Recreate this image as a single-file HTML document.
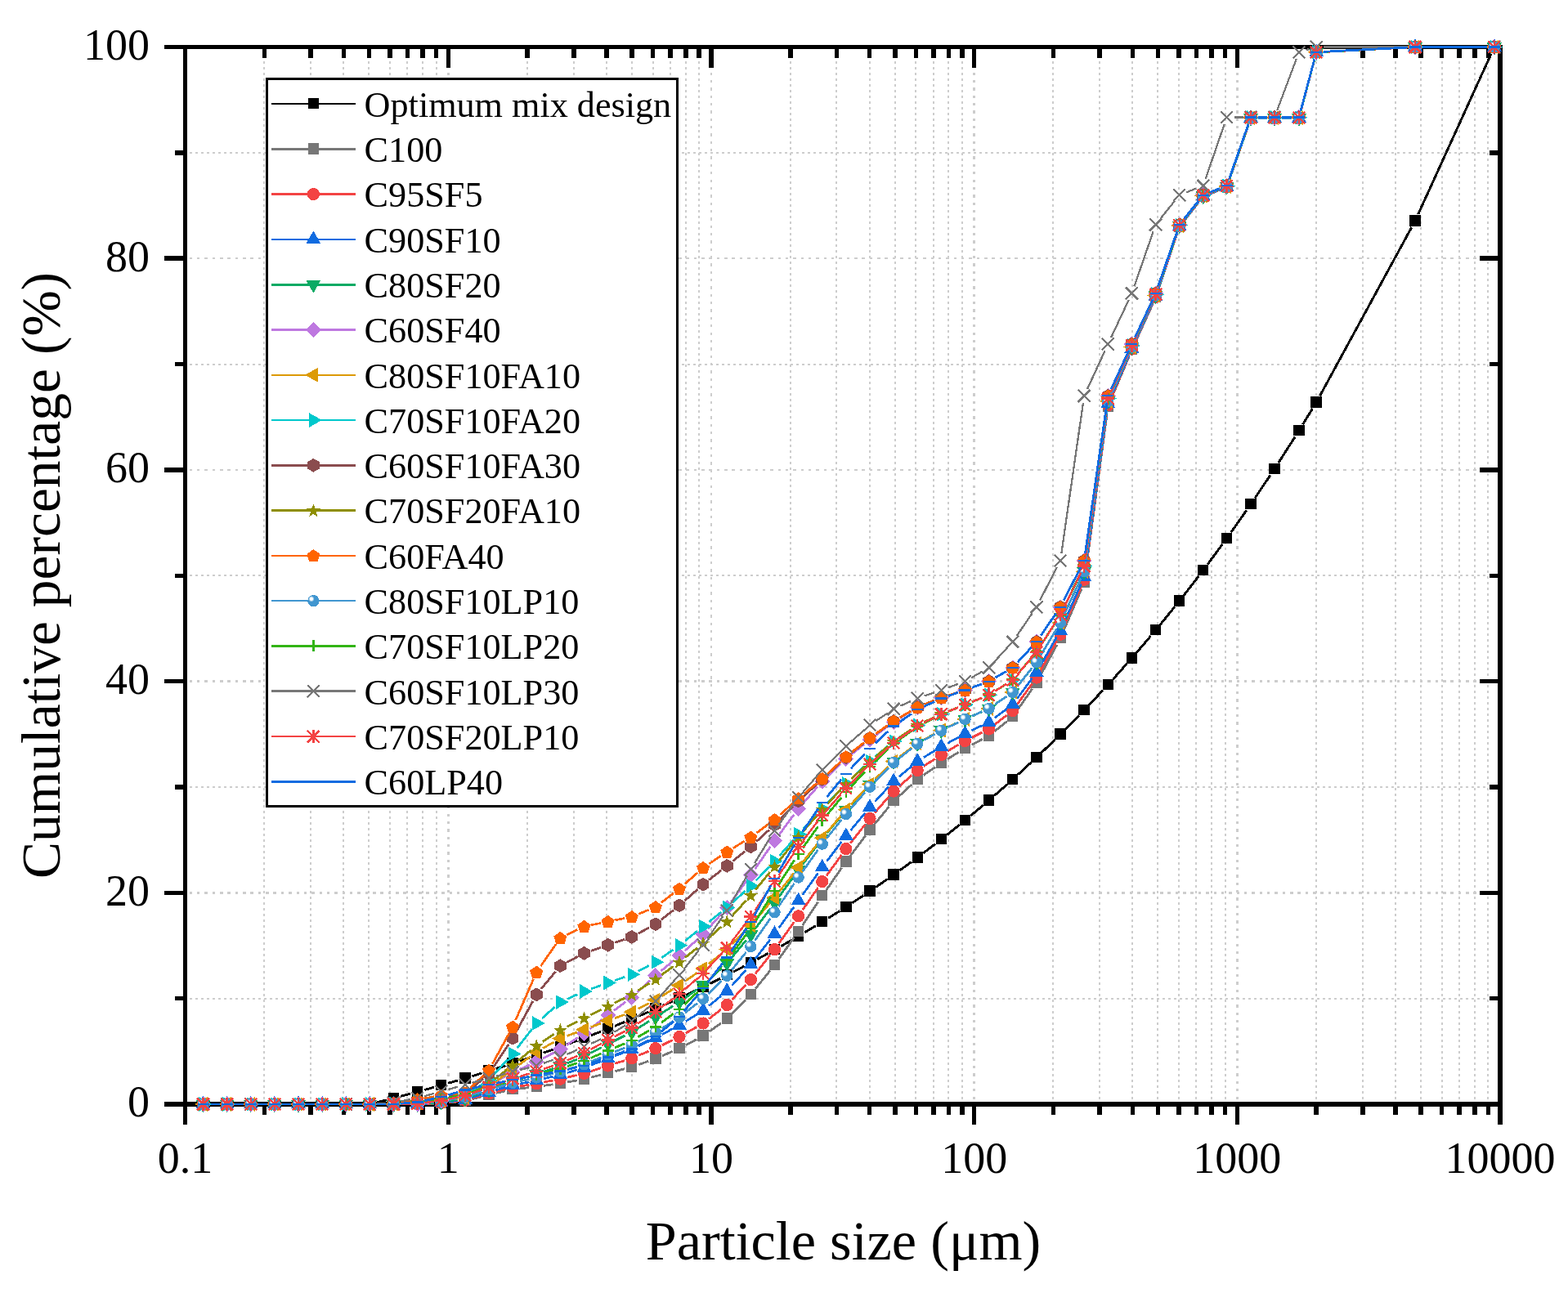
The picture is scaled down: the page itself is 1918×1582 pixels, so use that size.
<!DOCTYPE html>
<html lang="en"><head><meta charset="utf-8"><title>Cumulative particle size distribution</title>
<style>html,body{margin:0;padding:0;background:#fff}svg{display:block}text{font-family:"Liberation Serif",serif;fill:#000}</style></head><body>
<svg width="1918" height="1582" viewBox="0 0 1918 1582" shape-rendering="crispEdges">
<defs><radialGradient id="hl"><stop offset="0" stop-color="#fff" stop-opacity="1"/><stop offset="0.45" stop-color="#fff" stop-opacity="0.95"/><stop offset="1" stop-color="#fff" stop-opacity="0"/></radialGradient></defs>
<rect width="1918" height="1582" fill="#fff"/>
<g fill="none" stroke="#cdcdcd">
<path d="M323 60.55V1348M380 60.55V1348M420 60.55V1348M451 60.55V1348M477 60.55V1348M498 60.55V1348M517 60.55V1348M534 60.55V1348M645 60.55V1348M702 60.55V1348M742 60.55V1348M773 60.55V1348M799 60.55V1348M820 60.55V1348M839 60.55V1348M855 60.55V1348M967 60.55V1348M1023 60.55V1348M1064 60.55V1348M1095 60.55V1348M1120 60.55V1348M1142 60.55V1348M1160 60.55V1348M1177 60.55V1348M1288 60.55V1348M1345 60.55V1348M1385 60.55V1348M1416 60.55V1348M1442 60.55V1348M1463 60.55V1348M1482 60.55V1348M1499 60.55V1348M1610 60.55V1348M1667 60.55V1348M1707 60.55V1348M1738 60.55V1348M1764 60.55V1348M1785 60.55V1348M1804 60.55V1348M1820 60.55V1348" stroke-width="2" stroke-dasharray="3 4"/>
<path d="M548.5 60.55V1348M870 60.55V1348M1191.5 60.55V1348M1513.5 60.55V1348" stroke-width="2.6" stroke-dasharray="3.3 6.05"/>
<path d="M231.6 1222H1821M231.6 963H1821M231.6 704H1821M231.6 446H1821M231.6 187H1821" stroke-width="2" stroke-dasharray="3 4"/>
<path d="M231.6 1092.5H1808M231.6 833.5H1808M231.6 575H1808M231.6 316H1808" stroke-width="2.6" stroke-dasharray="3.5 5.85"/>
</g>
<path d="M201.4 57.55H1837.75M201.4 1351H1837.75M226.6 54.8V1376.2M1835 54.8V1376.2M213.6 1221.65H226.6M1822 1221.65H1835M201.4 1092.31H226.6M1809.8 1092.31H1835M213.6 962.97H226.6M1822 962.97H1835M201.4 833.62H226.6M1809.8 833.62H1835M213.6 704.27H226.6M1822 704.27H1835M201.4 574.93H226.6M1809.8 574.93H1835M213.6 445.59H226.6M1822 445.59H1835M201.4 316.24H226.6M1809.8 316.24H1835M213.6 186.89H226.6M1822 186.89H1835M323.44 1351V1364M323.44 57.55V70.55M380.08 1351V1364M380.08 57.55V70.55M420.27 1351V1364M420.27 57.55V70.55M451.44 1351V1364M451.44 57.55V70.55M476.92 1351V1364M476.92 57.55V70.55M498.45 1351V1364M498.45 57.55V70.55M517.11 1351V1364M517.11 57.55V70.55M533.56 1351V1364M533.56 57.55V70.55M548.28 1351V1376.2M548.28 57.55V82.75M645.12 1351V1364M645.12 57.55V70.55M701.76 1351V1364M701.76 57.55V70.55M741.95 1351V1364M741.95 57.55V70.55M773.12 1351V1364M773.12 57.55V70.55M798.6 1351V1364M798.6 57.55V70.55M820.13 1351V1364M820.13 57.55V70.55M838.79 1351V1364M838.79 57.55V70.55M855.24 1351V1364M855.24 57.55V70.55M869.96 1351V1376.2M869.96 57.55V82.75M966.8 1351V1364M966.8 57.55V70.55M1023.44 1351V1364M1023.44 57.55V70.55M1063.63 1351V1364M1063.63 57.55V70.55M1094.8 1351V1364M1094.8 57.55V70.55M1120.28 1351V1364M1120.28 57.55V70.55M1141.81 1351V1364M1141.81 57.55V70.55M1160.47 1351V1364M1160.47 57.55V70.55M1176.92 1351V1364M1176.92 57.55V70.55M1191.64 1351V1376.2M1191.64 57.55V82.75M1288.48 1351V1364M1288.48 57.55V70.55M1345.12 1351V1364M1345.12 57.55V70.55M1385.31 1351V1364M1385.31 57.55V70.55M1416.48 1351V1364M1416.48 57.55V70.55M1441.96 1351V1364M1441.96 57.55V70.55M1463.49 1351V1364M1463.49 57.55V70.55M1482.15 1351V1364M1482.15 57.55V70.55M1498.6 1351V1364M1498.6 57.55V70.55M1513.32 1351V1376.2M1513.32 57.55V82.75M1610.16 1351V1364M1610.16 57.55V70.55M1666.8 1351V1364M1666.8 57.55V70.55M1706.99 1351V1364M1706.99 57.55V70.55M1738.16 1351V1364M1738.16 57.55V70.55M1763.64 1351V1364M1763.64 57.55V70.55M1785.17 1351V1364M1785.17 57.55V70.55M1803.83 1351V1364M1803.83 57.55V70.55M1820.28 1351V1364M1820.28 57.55V70.55" stroke="#000" stroke-width="5.5" fill="none"/>
<g font-size="54">
<text x="183" y="1366.3" text-anchor="end">0</text>
<text x="183" y="1107.61" text-anchor="end">20</text>
<text x="183" y="848.92" text-anchor="end">40</text>
<text x="183" y="590.23" text-anchor="end">60</text>
<text x="183" y="331.54" text-anchor="end">80</text>
<text x="183" y="72.85" text-anchor="end">100</text>
<text x="226.6" y="1434.6" text-anchor="middle">0.1</text>
<text x="548.28" y="1434.6" text-anchor="middle">1</text>
<text x="869.96" y="1434.6" text-anchor="middle">10</text>
<text x="1191.64" y="1434.6" text-anchor="middle">100</text>
<text x="1513.32" y="1434.6" text-anchor="middle">1000</text>
<text x="1835" y="1434.6" text-anchor="middle">10000</text>
</g>
<text x="1031.5" y="1540.7" font-size="68.2" text-anchor="middle">Particle size (μm)</text>
<text transform="translate(73 704) rotate(-90)" font-size="67.5" text-anchor="middle">Cumulative percentage (%)</text>
<g>
<path d="M461.1 1348.79L472.77 1345.84M490.19 1341.33L501.92 1338.22M519.29 1333.5L531.07 1330.22M548.38 1325.28L560.23 1321.82M577.47 1316.66L589.39 1313.01M606.56 1307.62L618.55 1303.77M635.64 1298.14L647.71 1294.07M664.72 1288.2L676.88 1283.9M693.8 1277.76L706.05 1273.22M722.87 1266.82L735.23 1262.01M751.94 1255.34L764.4 1250.25M781.01 1243.31L793.59 1237.92M810.07 1230.68L822.78 1224.97M839.12 1217.44L851.97 1211.38M868.18 1203.55L881.17 1197.12M897.22 1188.98L910.37 1182.16M926.26 1173.71L939.58 1166.46M955.3 1157.69L968.79 1149.98M984.33 1140.88L998.01 1132.68M1013.35 1123.26L1027.24 1114.53M1042.37 1104.78L1056.47 1095.48M1071.38 1085.4L1085.7 1075.49M1100.39 1065.08L1114.94 1054.5M1129.39 1043.76L1144.19 1032.48M1158.38 1021.41L1173.45 1009.37M1187.37 997.97L1202.7 985.11M1216.36 973.39L1231.99 959.64M1245.36 947.59L1261.27 932.9M1274.35 920.53L1290.57 904.84M1303.34 892.16L1319.86 875.38M1332.33 862.41L1349.16 844.47M1361.32 831.2L1378.46 812.03M1390.3 798.47L1407.77 777.98M1419.28 764.14L1437.07 742.24M1448.26 728.14L1466.19 705M1477.05 690.64L1495.25 665.99M1505.78 651.39L1524.82 624.34M1535.01 609.51L1553.99 581.23M1563.85 566.17L1584.05 534.55M1593.6 519.3L1605.45 499.96M1614.46 484.38L1726.7 278.16M1734.73 262.07L1824.11 65.74" stroke="#000000" stroke-width="2.9" fill="none"/>
<rect x="445.67" y="1343.9" width="13.4" height="13.4" fill="#000000"/>
<rect x="474.79" y="1336.54" width="13.4" height="13.4" fill="#000000"/>
<rect x="503.92" y="1328.81" width="13.4" height="13.4" fill="#000000"/>
<rect x="533.04" y="1320.7" width="13.4" height="13.4" fill="#000000"/>
<rect x="562.17" y="1312.2" width="13.4" height="13.4" fill="#000000"/>
<rect x="591.29" y="1303.28" width="13.4" height="13.4" fill="#000000"/>
<rect x="620.42" y="1293.92" width="13.4" height="13.4" fill="#000000"/>
<rect x="649.54" y="1284.1" width="13.4" height="13.4" fill="#000000"/>
<rect x="678.66" y="1273.79" width="13.4" height="13.4" fill="#000000"/>
<rect x="707.79" y="1262.99" width="13.4" height="13.4" fill="#000000"/>
<rect x="736.91" y="1251.65" width="13.4" height="13.4" fill="#000000"/>
<rect x="766.04" y="1239.75" width="13.4" height="13.4" fill="#000000"/>
<rect x="795.16" y="1227.27" width="13.4" height="13.4" fill="#000000"/>
<rect x="824.28" y="1214.18" width="13.4" height="13.4" fill="#000000"/>
<rect x="853.41" y="1200.44" width="13.4" height="13.4" fill="#000000"/>
<rect x="882.53" y="1186.03" width="13.4" height="13.4" fill="#000000"/>
<rect x="911.66" y="1170.91" width="13.4" height="13.4" fill="#000000"/>
<rect x="940.78" y="1155.05" width="13.4" height="13.4" fill="#000000"/>
<rect x="969.91" y="1138.41" width="13.4" height="13.4" fill="#000000"/>
<rect x="999.03" y="1120.95" width="13.4" height="13.4" fill="#000000"/>
<rect x="1028.15" y="1102.64" width="13.4" height="13.4" fill="#000000"/>
<rect x="1057.28" y="1083.42" width="13.4" height="13.4" fill="#000000"/>
<rect x="1086.4" y="1063.26" width="13.4" height="13.4" fill="#000000"/>
<rect x="1115.53" y="1042.12" width="13.4" height="13.4" fill="#000000"/>
<rect x="1144.65" y="1019.93" width="13.4" height="13.4" fill="#000000"/>
<rect x="1173.78" y="996.65" width="13.4" height="13.4" fill="#000000"/>
<rect x="1202.9" y="972.23" width="13.4" height="13.4" fill="#000000"/>
<rect x="1232.04" y="946.59" width="13.4" height="13.4" fill="#000000"/>
<rect x="1261.19" y="919.7" width="13.4" height="13.4" fill="#000000"/>
<rect x="1290.33" y="891.48" width="13.4" height="13.4" fill="#000000"/>
<rect x="1319.47" y="861.87" width="13.4" height="13.4" fill="#000000"/>
<rect x="1348.62" y="830.81" width="13.4" height="13.4" fill="#000000"/>
<rect x="1377.76" y="798.22" width="13.4" height="13.4" fill="#000000"/>
<rect x="1406.91" y="764.03" width="13.4" height="13.4" fill="#000000"/>
<rect x="1436.05" y="728.16" width="13.4" height="13.4" fill="#000000"/>
<rect x="1465" y="690.78" width="13.4" height="13.4" fill="#000000"/>
<rect x="1493.9" y="651.65" width="13.4" height="13.4" fill="#000000"/>
<rect x="1523.3" y="609.88" width="13.4" height="13.4" fill="#000000"/>
<rect x="1552.3" y="566.65" width="13.4" height="13.4" fill="#000000"/>
<rect x="1582.2" y="519.87" width="13.4" height="13.4" fill="#000000"/>
<rect x="1603.46" y="485.18" width="13.4" height="13.4" fill="#000000"/>
<rect x="1724.3" y="263.16" width="13.4" height="13.4" fill="#000000"/>
<rect x="1821.13" y="50.45" width="13.4" height="13.4" fill="#000000"/>
</g>
<g>
<path d="M257.5 1351L268.62 1351M286.62 1351L297.75 1351M315.75 1351L326.87 1351M344.87 1351L356 1351M374 1351L385.12 1351M403.12 1351L414.25 1351M432.25 1351L443.37 1351M461.37 1351L472.49 1351M490.49 1351L501.62 1351M519.61 1350.6L530.75 1350.11M548.71 1348.91L559.9 1347.92M577.56 1344.8L589.29 1341.68M606.78 1337.41L618.33 1334.84M636.06 1331.9L647.29 1330.65M665.14 1328.35L676.46 1326.69M694.24 1323.89L705.61 1321.97M723.19 1318.19L734.91 1315.12M752.34 1310.63L764.01 1307.68M781.24 1302.52L793.36 1298.33M810.11 1291.79L822.73 1286.3M838.97 1278.56L852.12 1271.72M867.4 1262.29L881.94 1251.77M895.54 1240.07L912.05 1223.29M924 1209.86L941.84 1187.67M952.69 1173.32L971.39 1146.99M981.62 1132.17L1000.72 1103.67M1010.87 1088.8L1029.72 1061.67M1040.23 1047.07L1058.6 1022.44M1069.73 1008.3L1087.35 987.09M1099.74 974.09L1115.59 959.6M1129.64 948.42L1143.94 938.58M1158.99 928.72L1172.83 920.12M1188.48 911.24L1201.6 904.48M1216.62 894.73L1231.73 882.59M1243.9 869.58L1262.73 842.68M1272.15 827.37L1292.77 789.03M1300.56 772.83L1322.65 720.96M1327.38 703.76L1354.11 506.24M1358.81 489.03L1380.97 436.42M1388.19 419.93L1409.88 372.29M1416.48 355.57L1439.88 285.97M1448.31 270.36L1466.14 247.65M1480.05 237.21L1492.25 232.29M1503.57 220.44L1527.03 153.35M1539 144.86L1550 144.86M1568 144.86L1579.9 144.86M1591.19 136.15L1607.87 72.72M1619.14 63.54L1722.01 58.03M1740 57.55L1818.83 57.55" stroke="#777777" stroke-width="2.8" fill="none"/>
<rect x="241.8" y="1343.9" width="13.4" height="13.4" fill="#777777"/>
<rect x="270.92" y="1343.9" width="13.4" height="13.4" fill="#777777"/>
<rect x="300.05" y="1343.9" width="13.4" height="13.4" fill="#777777"/>
<rect x="329.17" y="1343.9" width="13.4" height="13.4" fill="#777777"/>
<rect x="358.3" y="1343.9" width="13.4" height="13.4" fill="#777777"/>
<rect x="387.42" y="1343.9" width="13.4" height="13.4" fill="#777777"/>
<rect x="416.55" y="1343.9" width="13.4" height="13.4" fill="#777777"/>
<rect x="445.67" y="1343.9" width="13.4" height="13.4" fill="#777777"/>
<rect x="474.79" y="1343.9" width="13.4" height="13.4" fill="#777777"/>
<rect x="503.92" y="1343.9" width="13.4" height="13.4" fill="#777777"/>
<rect x="533.04" y="1342.61" width="13.4" height="13.4" fill="#777777"/>
<rect x="562.17" y="1340.02" width="13.4" height="13.4" fill="#777777"/>
<rect x="591.29" y="1332.26" width="13.4" height="13.4" fill="#777777"/>
<rect x="620.42" y="1325.79" width="13.4" height="13.4" fill="#777777"/>
<rect x="649.54" y="1322.56" width="13.4" height="13.4" fill="#777777"/>
<rect x="678.66" y="1318.29" width="13.4" height="13.4" fill="#777777"/>
<rect x="707.79" y="1313.37" width="13.4" height="13.4" fill="#777777"/>
<rect x="736.91" y="1305.74" width="13.4" height="13.4" fill="#777777"/>
<rect x="766.04" y="1298.37" width="13.4" height="13.4" fill="#777777"/>
<rect x="795.16" y="1288.28" width="13.4" height="13.4" fill="#777777"/>
<rect x="824.28" y="1275.61" width="13.4" height="13.4" fill="#777777"/>
<rect x="853.41" y="1260.47" width="13.4" height="13.4" fill="#777777"/>
<rect x="882.53" y="1239.39" width="13.4" height="13.4" fill="#777777"/>
<rect x="911.66" y="1209.77" width="13.4" height="13.4" fill="#777777"/>
<rect x="940.78" y="1173.55" width="13.4" height="13.4" fill="#777777"/>
<rect x="969.91" y="1132.55" width="13.4" height="13.4" fill="#777777"/>
<rect x="999.03" y="1089.09" width="13.4" height="13.4" fill="#777777"/>
<rect x="1028.15" y="1047.18" width="13.4" height="13.4" fill="#777777"/>
<rect x="1057.28" y="1008.12" width="13.4" height="13.4" fill="#777777"/>
<rect x="1086.4" y="973.07" width="13.4" height="13.4" fill="#777777"/>
<rect x="1115.53" y="946.42" width="13.4" height="13.4" fill="#777777"/>
<rect x="1144.65" y="926.37" width="13.4" height="13.4" fill="#777777"/>
<rect x="1173.78" y="908.27" width="13.4" height="13.4" fill="#777777"/>
<rect x="1202.9" y="893.26" width="13.4" height="13.4" fill="#777777"/>
<rect x="1232.04" y="869.85" width="13.4" height="13.4" fill="#777777"/>
<rect x="1261.19" y="828.2" width="13.4" height="13.4" fill="#777777"/>
<rect x="1290.33" y="774.01" width="13.4" height="13.4" fill="#777777"/>
<rect x="1319.47" y="705.58" width="13.4" height="13.4" fill="#777777"/>
<rect x="1348.62" y="490.22" width="13.4" height="13.4" fill="#777777"/>
<rect x="1377.76" y="421.02" width="13.4" height="13.4" fill="#777777"/>
<rect x="1406.91" y="357" width="13.4" height="13.4" fill="#777777"/>
<rect x="1436.05" y="270.34" width="13.4" height="13.4" fill="#777777"/>
<rect x="1465" y="233.47" width="13.4" height="13.4" fill="#777777"/>
<rect x="1493.9" y="221.83" width="13.4" height="13.4" fill="#777777"/>
<rect x="1523.3" y="137.76" width="13.4" height="13.4" fill="#777777"/>
<rect x="1552.3" y="137.76" width="13.4" height="13.4" fill="#777777"/>
<rect x="1582.2" y="137.76" width="13.4" height="13.4" fill="#777777"/>
<rect x="1603.46" y="56.92" width="13.4" height="13.4" fill="#777777"/>
<rect x="1724.3" y="50.45" width="13.4" height="13.4" fill="#777777"/>
<rect x="1821.13" y="50.45" width="13.4" height="13.4" fill="#777777"/>
</g>
<g>
<path d="M257.5 1351L268.62 1351M286.62 1351L297.75 1351M315.75 1351L326.87 1351M344.87 1351L356 1351M374 1351L385.12 1351M403.12 1351L414.25 1351M432.25 1351L443.37 1351M461.37 1351L472.49 1351M490.49 1351L501.62 1351M519.6 1350.5L530.76 1349.88M548.69 1348.44L559.92 1347.26M577.51 1343.82L589.34 1340.4M606.7 1335.63L618.41 1332.58M636.01 1328.95L647.34 1327.22M665.07 1324.14L676.53 1321.9M694.13 1318.16L705.72 1315.49M723.04 1310.69L735.06 1306.77M752.2 1301.29L764.15 1297.53M781.04 1291.36L793.56 1286.13M809.96 1278.73L822.89 1272.46M838.81 1264.09L852.28 1256.46M867.23 1246.52L882.11 1235.02M895.4 1222.96L912.19 1205.12M923.93 1191.5L941.91 1168.72M952.71 1154.33L971.38 1128.2M981.72 1113.47L1000.62 1086.07M1011.02 1071.38L1029.57 1045.85M1040.41 1031.48L1058.43 1008.5M1069.9 994.63L1087.18 974.85M1099.87 962.14L1115.46 948.44M1129.77 937.58L1143.81 928.42M1159.13 918.96L1172.7 911.04M1188.53 902.5L1201.54 896.03M1216.72 886.51L1231.63 874.96M1244.01 862.15L1262.62 836.34M1272.24 821.17L1292.68 784.18M1300.62 768.05L1322.58 717.59M1327.39 700.42L1354.1 504.62M1358.84 487.43L1380.94 435.52M1388.2 419.05L1409.87 371.64M1416.48 354.92L1439.87 285.64M1448.32 270.04L1466.13 247.4M1480.05 236.98L1492.25 232.08M1503.57 220.23L1527.03 153.19M1539 144.7L1550 144.7M1568 144.7L1579.9 144.7M1591.19 135.99L1607.86 72.69M1619.14 63.51L1722.01 58.03M1740 57.55L1818.83 57.55" stroke="#f34343" stroke-width="2.8" fill="none"/>
<circle cx="248.5" cy="1351" r="7.6" fill="#f34343"/>
<circle cx="277.62" cy="1351" r="7.6" fill="#f34343"/>
<circle cx="306.75" cy="1351" r="7.6" fill="#f34343"/>
<circle cx="335.87" cy="1351" r="7.6" fill="#f34343"/>
<circle cx="365" cy="1351" r="7.6" fill="#f34343"/>
<circle cx="394.12" cy="1351" r="7.6" fill="#f34343"/>
<circle cx="423.25" cy="1351" r="7.6" fill="#f34343"/>
<circle cx="452.37" cy="1351" r="7.6" fill="#f34343"/>
<circle cx="481.49" cy="1351" r="7.6" fill="#f34343"/>
<circle cx="510.62" cy="1351" r="7.6" fill="#f34343"/>
<circle cx="539.74" cy="1349.38" r="7.6" fill="#f34343"/>
<circle cx="568.87" cy="1346.31" r="7.6" fill="#f34343"/>
<circle cx="597.99" cy="1337.9" r="7.6" fill="#f34343"/>
<circle cx="627.12" cy="1330.3" r="7.6" fill="#f34343"/>
<circle cx="656.24" cy="1325.86" r="7.6" fill="#f34343"/>
<circle cx="685.36" cy="1320.18" r="7.6" fill="#f34343"/>
<circle cx="714.49" cy="1313.47" r="7.6" fill="#f34343"/>
<circle cx="743.61" cy="1303.98" r="7.6" fill="#f34343"/>
<circle cx="772.74" cy="1294.83" r="7.6" fill="#f34343"/>
<circle cx="801.86" cy="1282.66" r="7.6" fill="#f34343"/>
<circle cx="830.98" cy="1268.53" r="7.6" fill="#f34343"/>
<circle cx="860.11" cy="1252.02" r="7.6" fill="#f34343"/>
<circle cx="889.23" cy="1229.51" r="7.6" fill="#f34343"/>
<circle cx="918.36" cy="1198.57" r="7.6" fill="#f34343"/>
<circle cx="947.48" cy="1161.66" r="7.6" fill="#f34343"/>
<circle cx="976.61" cy="1120.88" r="7.6" fill="#f34343"/>
<circle cx="1005.73" cy="1078.66" r="7.6" fill="#f34343"/>
<circle cx="1034.85" cy="1038.57" r="7.6" fill="#f34343"/>
<circle cx="1063.98" cy="1001.41" r="7.6" fill="#f34343"/>
<circle cx="1093.1" cy="968.07" r="7.6" fill="#f34343"/>
<circle cx="1122.23" cy="942.5" r="7.6" fill="#f34343"/>
<circle cx="1151.35" cy="923.5" r="7.6" fill="#f34343"/>
<circle cx="1180.48" cy="906.51" r="7.6" fill="#f34343"/>
<circle cx="1209.6" cy="892.02" r="7.6" fill="#f34343"/>
<circle cx="1238.74" cy="869.45" r="7.6" fill="#f34343"/>
<circle cx="1267.89" cy="829.04" r="7.6" fill="#f34343"/>
<circle cx="1297.03" cy="776.3" r="7.6" fill="#f34343"/>
<circle cx="1326.17" cy="709.34" r="7.6" fill="#f34343"/>
<circle cx="1355.32" cy="495.71" r="7.6" fill="#f34343"/>
<circle cx="1384.46" cy="427.23" r="7.6" fill="#f34343"/>
<circle cx="1413.61" cy="363.45" r="7.6" fill="#f34343"/>
<circle cx="1442.75" cy="277.11" r="7.6" fill="#f34343"/>
<circle cx="1471.7" cy="240.33" r="7.6" fill="#f34343"/>
<circle cx="1500.6" cy="228.72" r="7.6" fill="#f34343"/>
<circle cx="1530" cy="144.7" r="7.6" fill="#f34343"/>
<circle cx="1559" cy="144.7" r="7.6" fill="#f34343"/>
<circle cx="1588.9" cy="144.7" r="7.6" fill="#f34343"/>
<circle cx="1610.16" cy="63.98" r="7.6" fill="#f34343"/>
<circle cx="1731" cy="57.55" r="7.6" fill="#f34343"/>
<circle cx="1827.83" cy="57.55" r="7.6" fill="#f34343"/>
</g>
<g>
<path d="M257.5 1351L268.62 1351M286.62 1351L297.75 1351M315.75 1351L326.87 1351M344.87 1351L356 1351M374 1351L385.12 1351M403.12 1351L414.25 1351M432.25 1351L443.37 1351M461.37 1351L472.49 1351M490.49 1351L501.62 1351M519.6 1350.4L530.76 1349.66M548.68 1347.97L559.93 1346.59M577.46 1342.83L589.4 1339.12M606.61 1333.86L618.49 1330.3M635.95 1326L647.4 1323.78M664.98 1319.93L676.62 1317.1M694 1312.45L705.85 1309M722.87 1303.2L735.23 1298.39M752.04 1291.96L764.31 1287.36M780.82 1280.24L793.78 1273.89M809.8 1265.69L823.05 1258.59M838.65 1249.64L852.44 1241.17M867.06 1230.75L882.28 1218.25M895.26 1205.85L912.33 1186.95M923.87 1173.15L941.97 1149.77M952.73 1135.35L971.36 1109.42M981.82 1094.77L1000.52 1068.47M1011.18 1053.97L1029.41 1030.01M1040.59 1015.91L1058.25 994.54M1070.08 980.98L1087.01 962.6M1099.99 950.19L1115.34 937.26M1129.89 926.75L1143.69 918.24M1159.25 909.22L1172.57 901.95M1188.59 893.75L1201.49 887.57M1216.82 878.3L1231.53 867.33M1244.12 854.73L1262.51 830.01M1272.33 814.96L1292.58 779.33M1300.69 763.28L1322.52 714.21M1327.4 697.07L1354.09 503.01M1358.88 485.82L1380.91 434.61M1388.21 418.16L1409.85 370.98M1416.49 354.28L1439.86 285.31M1448.32 269.72L1466.13 247.15M1480.05 236.74L1492.25 231.86M1503.57 220.02L1527.03 153.03M1539 144.53L1550 144.53M1568 144.53L1579.9 144.53M1591.2 135.83L1607.86 72.65M1619.14 63.48L1722.01 58.03M1740 57.55L1818.83 57.55" stroke="#0f6be0" stroke-width="2.7" fill="none"/>
<polygon points="248.5,1340.6 257.5,1356.2 239.5,1356.2" fill="#0f6be0"/>
<polygon points="277.62,1340.6 286.62,1356.2 268.62,1356.2" fill="#0f6be0"/>
<polygon points="306.75,1340.6 315.75,1356.2 297.75,1356.2" fill="#0f6be0"/>
<polygon points="335.87,1340.6 344.87,1356.2 326.87,1356.2" fill="#0f6be0"/>
<polygon points="365,1340.6 374,1356.2 356,1356.2" fill="#0f6be0"/>
<polygon points="394.12,1340.6 403.12,1356.2 385.12,1356.2" fill="#0f6be0"/>
<polygon points="423.25,1340.6 432.25,1356.2 414.25,1356.2" fill="#0f6be0"/>
<polygon points="452.37,1340.6 461.37,1356.2 443.37,1356.2" fill="#0f6be0"/>
<polygon points="481.49,1340.6 490.49,1356.2 472.49,1356.2" fill="#0f6be0"/>
<polygon points="510.62,1340.6 519.62,1356.2 501.62,1356.2" fill="#0f6be0"/>
<polygon points="539.74,1338.66 548.74,1354.26 530.74,1354.26" fill="#0f6be0"/>
<polygon points="568.87,1335.1 577.87,1350.7 559.87,1350.7" fill="#0f6be0"/>
<polygon points="597.99,1326.05 606.99,1341.65 588.99,1341.65" fill="#0f6be0"/>
<polygon points="627.12,1317.32 636.12,1332.92 618.12,1332.92" fill="#0f6be0"/>
<polygon points="656.24,1311.66 665.24,1327.26 647.24,1327.26" fill="#0f6be0"/>
<polygon points="685.36,1304.58 694.36,1320.18 676.36,1320.18" fill="#0f6be0"/>
<polygon points="714.49,1296.07 723.49,1311.67 705.49,1311.67" fill="#0f6be0"/>
<polygon points="743.61,1284.72 752.61,1300.32 734.61,1300.32" fill="#0f6be0"/>
<polygon points="772.74,1273.79 781.74,1289.39 763.74,1289.39" fill="#0f6be0"/>
<polygon points="801.86,1259.53 810.86,1275.13 792.86,1275.13" fill="#0f6be0"/>
<polygon points="830.98,1243.95 839.98,1259.55 821.98,1259.55" fill="#0f6be0"/>
<polygon points="860.11,1226.07 869.11,1241.67 851.11,1241.67" fill="#0f6be0"/>
<polygon points="889.23,1202.14 898.23,1217.74 880.23,1217.74" fill="#0f6be0"/>
<polygon points="918.36,1169.86 927.36,1185.46 909.36,1185.46" fill="#0f6be0"/>
<polygon points="947.48,1132.26 956.48,1147.86 938.48,1147.86" fill="#0f6be0"/>
<polygon points="976.61,1091.71 985.61,1107.31 967.61,1107.31" fill="#0f6be0"/>
<polygon points="1005.73,1050.74 1014.73,1066.34 996.73,1066.34" fill="#0f6be0"/>
<polygon points="1034.85,1012.45 1043.85,1028.05 1025.85,1028.05" fill="#0f6be0"/>
<polygon points="1063.98,977.21 1072.98,992.81 1054.98,992.81" fill="#0f6be0"/>
<polygon points="1093.1,945.58 1102.1,961.18 1084.1,961.18" fill="#0f6be0"/>
<polygon points="1122.23,921.07 1131.23,936.67 1113.23,936.67" fill="#0f6be0"/>
<polygon points="1151.35,903.12 1160.35,918.72 1142.35,918.72" fill="#0f6be0"/>
<polygon points="1180.48,887.25 1189.48,902.85 1171.48,902.85" fill="#0f6be0"/>
<polygon points="1209.6,873.28 1218.6,888.88 1200.6,888.88" fill="#0f6be0"/>
<polygon points="1238.74,851.55 1247.74,867.15 1229.74,867.15" fill="#0f6be0"/>
<polygon points="1267.89,812.39 1276.89,827.99 1258.89,827.99" fill="#0f6be0"/>
<polygon points="1297.03,761.1 1306.03,776.7 1288.03,776.7" fill="#0f6be0"/>
<polygon points="1326.17,695.59 1335.17,711.19 1317.17,711.19" fill="#0f6be0"/>
<polygon points="1355.32,483.69 1364.32,499.29 1346.32,499.29" fill="#0f6be0"/>
<polygon points="1384.46,415.94 1393.46,431.54 1375.46,431.54" fill="#0f6be0"/>
<polygon points="1413.61,352.4 1422.61,368 1404.61,368" fill="#0f6be0"/>
<polygon points="1442.75,266.39 1451.75,281.99 1433.75,281.99" fill="#0f6be0"/>
<polygon points="1471.7,229.69 1480.7,245.29 1462.7,245.29" fill="#0f6be0"/>
<polygon points="1500.6,218.11 1509.6,233.71 1491.6,233.71" fill="#0f6be0"/>
<polygon points="1530,134.13 1539,149.73 1521,149.73" fill="#0f6be0"/>
<polygon points="1559,134.13 1568,149.73 1550,149.73" fill="#0f6be0"/>
<polygon points="1588.9,134.13 1597.9,149.73 1579.9,149.73" fill="#0f6be0"/>
<polygon points="1610.16,53.55 1619.16,69.15 1601.16,69.15" fill="#0f6be0"/>
<polygon points="1731,47.15 1740,62.75 1722,62.75" fill="#0f6be0"/>
<polygon points="1827.83,47.15 1836.83,62.75 1818.83,62.75" fill="#0f6be0"/>
</g>
<g>
<path d="M257.5 1351L268.62 1351M286.62 1351L297.75 1351M315.75 1351L326.87 1351M344.87 1351L356 1351M374 1351L385.12 1351M403.12 1351L414.25 1351M432.25 1351L443.37 1351M461.37 1351L472.49 1351M490.49 1351L501.62 1351M519.58 1350.2L530.78 1349.21M548.64 1347.03L559.97 1345.27M577.35 1340.87L589.51 1336.55M606.41 1330.36L618.7 1325.72M635.79 1320.14L647.57 1316.87M664.76 1311.56L676.84 1307.46M693.68 1301.11L706.18 1295.92M722.48 1288.34L735.62 1281.54M751.67 1273.39L764.68 1266.92M780.34 1258.1L794.26 1249.3M809.46 1239.66L823.39 1230.81M838.33 1220.79L852.76 1210.56M866.73 1199.27L882.61 1184.67M895 1171.67L912.59 1150.57M923.74 1136.45L942.1 1111.87M952.77 1097.38L971.32 1071.85M982.04 1057.39L1000.3 1033.26M1011.52 1019.19L1029.07 998.31M1040.97 984.82L1057.86 966.59M1070.44 953.73L1086.64 938.05M1100.24 926.31L1115.09 914.9M1130.13 905.12L1143.45 897.87M1159.5 889.75L1172.33 883.74M1188.7 876.27L1201.37 870.64M1217.01 861.89L1231.33 852.04M1244.34 839.9L1262.29 817.32M1272.53 802.56L1292.39 769.61M1300.83 753.74L1322.38 707.45M1327.42 690.38L1354.07 499.77M1358.94 482.62L1380.84 432.81M1388.24 416.4L1409.83 369.68M1416.51 352.99L1439.84 284.66M1448.34 269.09L1466.11 246.66M1480.06 236.27L1492.24 231.42M1503.58 219.6L1527.02 152.7M1539 144.21L1550 144.21M1568 144.21L1579.9 144.21M1591.2 135.51L1607.85 72.59M1619.14 63.42L1722.01 58.02M1740 57.55L1818.83 57.55" stroke="#0aaa64" stroke-width="2.8" fill="none"/>
<polygon points="248.5,1361.4 257.5,1345.8 239.5,1345.8" fill="#0aaa64"/>
<polygon points="277.62,1361.4 286.62,1345.8 268.62,1345.8" fill="#0aaa64"/>
<polygon points="306.75,1361.4 315.75,1345.8 297.75,1345.8" fill="#0aaa64"/>
<polygon points="335.87,1361.4 344.87,1345.8 326.87,1345.8" fill="#0aaa64"/>
<polygon points="365,1361.4 374,1345.8 356,1345.8" fill="#0aaa64"/>
<polygon points="394.12,1361.4 403.12,1345.8 385.12,1345.8" fill="#0aaa64"/>
<polygon points="423.25,1361.4 432.25,1345.8 414.25,1345.8" fill="#0aaa64"/>
<polygon points="452.37,1361.4 461.37,1345.8 443.37,1345.8" fill="#0aaa64"/>
<polygon points="481.49,1361.4 490.49,1345.8 472.49,1345.8" fill="#0aaa64"/>
<polygon points="510.62,1361.4 519.62,1345.8 501.62,1345.8" fill="#0aaa64"/>
<polygon points="539.74,1358.81 548.74,1343.21 530.74,1343.21" fill="#0aaa64"/>
<polygon points="568.87,1354.29 577.87,1338.69 559.87,1338.69" fill="#0aaa64"/>
<polygon points="597.99,1343.94 606.99,1328.34 588.99,1328.34" fill="#0aaa64"/>
<polygon points="627.12,1332.94 636.12,1317.34 618.12,1317.34" fill="#0aaa64"/>
<polygon points="656.24,1324.86 665.24,1309.26 647.24,1309.26" fill="#0aaa64"/>
<polygon points="685.36,1314.97 694.36,1299.37 676.36,1299.37" fill="#0aaa64"/>
<polygon points="714.49,1302.87 723.49,1287.27 705.49,1287.27" fill="#0aaa64"/>
<polygon points="743.61,1287.8 752.61,1272.2 734.61,1272.2" fill="#0aaa64"/>
<polygon points="772.74,1273.32 781.74,1257.72 763.74,1257.72" fill="#0aaa64"/>
<polygon points="801.86,1254.88 810.86,1239.28 792.86,1239.28" fill="#0aaa64"/>
<polygon points="830.98,1236.39 839.98,1220.79 821.98,1220.79" fill="#0aaa64"/>
<polygon points="860.11,1215.76 869.11,1200.16 851.11,1200.16" fill="#0aaa64"/>
<polygon points="889.23,1188.98 898.23,1173.38 880.23,1173.38" fill="#0aaa64"/>
<polygon points="918.36,1154.06 927.36,1138.46 909.36,1138.46" fill="#0aaa64"/>
<polygon points="947.48,1115.06 956.48,1099.46 938.48,1099.46" fill="#0aaa64"/>
<polygon points="976.61,1074.97 985.61,1059.37 967.61,1059.37" fill="#0aaa64"/>
<polygon points="1005.73,1036.49 1014.73,1020.89 996.73,1020.89" fill="#0aaa64"/>
<polygon points="1034.85,1001.82 1043.85,986.22 1025.85,986.22" fill="#0aaa64"/>
<polygon points="1063.98,970.39 1072.98,954.79 1054.98,954.79" fill="#0aaa64"/>
<polygon points="1093.1,942.19 1102.1,926.59 1084.1,926.59" fill="#0aaa64"/>
<polygon points="1122.23,919.82 1131.23,904.22 1113.23,904.22" fill="#0aaa64"/>
<polygon points="1151.35,903.97 1160.35,888.37 1142.35,888.37" fill="#0aaa64"/>
<polygon points="1180.48,890.33 1189.48,874.73 1171.48,874.73" fill="#0aaa64"/>
<polygon points="1209.6,877.39 1218.6,861.79 1200.6,861.79" fill="#0aaa64"/>
<polygon points="1238.74,857.34 1247.74,841.74 1229.74,841.74" fill="#0aaa64"/>
<polygon points="1267.89,820.67 1276.89,805.07 1258.89,805.07" fill="#0aaa64"/>
<polygon points="1297.03,772.3 1306.03,756.7 1288.03,756.7" fill="#0aaa64"/>
<polygon points="1326.17,709.7 1335.17,694.1 1317.17,694.1" fill="#0aaa64"/>
<polygon points="1355.32,501.26 1364.32,485.66 1346.32,485.66" fill="#0aaa64"/>
<polygon points="1384.46,434.97 1393.46,419.37 1375.46,419.37" fill="#0aaa64"/>
<polygon points="1413.61,371.91 1422.61,356.31 1404.61,356.31" fill="#0aaa64"/>
<polygon points="1442.75,286.54 1451.75,270.94 1433.75,270.94" fill="#0aaa64"/>
<polygon points="1471.7,250 1480.7,234.4 1462.7,234.4" fill="#0aaa64"/>
<polygon points="1500.6,238.49 1509.6,222.89 1491.6,222.89" fill="#0aaa64"/>
<polygon points="1530,154.61 1539,139.01 1521,139.01" fill="#0aaa64"/>
<polygon points="1559,154.61 1568,139.01 1550,139.01" fill="#0aaa64"/>
<polygon points="1588.9,154.61 1597.9,139.01 1579.9,139.01" fill="#0aaa64"/>
<polygon points="1610.16,74.29 1619.16,58.69 1601.16,58.69" fill="#0aaa64"/>
<polygon points="1731,67.95 1740,52.35 1722,52.35" fill="#0aaa64"/>
<polygon points="1827.83,67.95 1836.83,52.35 1818.83,52.35" fill="#0aaa64"/>
</g>
<g>
<path d="M257.5 1351L268.62 1351M286.62 1351L297.75 1351M315.75 1351L326.87 1351M344.87 1351L356 1351M374 1351L385.12 1351M403.12 1351L414.25 1351M432.25 1351L443.37 1351M461.37 1351L472.49 1351M490.49 1351L501.62 1351M519.54 1349.81L530.82 1348.31M548.53 1345.17L560.08 1342.6M577.09 1337L589.77 1331.37M605.93 1323.49L619.17 1316.43M635.34 1308.54L648.01 1302.91M664.18 1295.03L677.42 1287.97M692.87 1278.77L706.98 1269.43M721.61 1258.97L736.49 1247.47M750.84 1236.6L765.51 1225.72M779.36 1214.27L795.23 1199.68M808.77 1187.82L824.08 1175.04M837.68 1163.26L853.41 1149.15M866.12 1136.44L883.22 1117.38M894.51 1103.39L913.08 1077.74M923.5 1063.07L942.33 1036.06M952.85 1021.45L971.24 996.7M982.51 982.69L999.83 962.77M1012.28 949.81L1028.3 934.73M1041.82 922.86L1057.01 910.45M1071.24 899.44L1085.84 888.74M1100.75 878.67L1114.58 870.06M1130.58 861.97L1142.99 857.01M1159.93 850.96L1171.89 847.19M1188.91 841.34L1201.17 836.77M1217.41 829.15L1230.93 821.41M1244.84 810.31L1261.8 791.87M1272.97 777.82L1291.95 750.12M1301.14 734.68L1322.07 693.91M1327.46 677L1354.03 493.3M1359.08 476.21L1380.7 429.19M1388.29 412.86L1409.78 367.07M1416.55 350.42L1439.8 283.35M1448.37 267.82L1466.08 245.66M1480.07 235.33L1492.23 230.55M1503.58 218.76L1527.02 152.06M1539 143.56L1550 143.56M1568 143.56L1579.9 143.56M1591.22 134.87L1607.84 72.46M1619.14 63.3L1722.01 58.01M1740 57.55L1818.83 57.55" stroke="#be78e0" stroke-width="2.8" fill="none"/>
<polygon points="248.5,1341.5 258,1351 248.5,1360.5 239,1351" fill="#be78e0"/>
<polygon points="277.62,1341.5 287.12,1351 277.62,1360.5 268.12,1351" fill="#be78e0"/>
<polygon points="306.75,1341.5 316.25,1351 306.75,1360.5 297.25,1351" fill="#be78e0"/>
<polygon points="335.87,1341.5 345.37,1351 335.87,1360.5 326.37,1351" fill="#be78e0"/>
<polygon points="365,1341.5 374.5,1351 365,1360.5 355.5,1351" fill="#be78e0"/>
<polygon points="394.12,1341.5 403.62,1351 394.12,1360.5 384.62,1351" fill="#be78e0"/>
<polygon points="423.25,1341.5 432.75,1351 423.25,1360.5 413.75,1351" fill="#be78e0"/>
<polygon points="452.37,1341.5 461.87,1351 452.37,1360.5 442.87,1351" fill="#be78e0"/>
<polygon points="481.49,1341.5 490.99,1351 481.49,1360.5 471.99,1351" fill="#be78e0"/>
<polygon points="510.62,1341.5 520.12,1351 510.62,1360.5 501.12,1351" fill="#be78e0"/>
<polygon points="539.74,1337.62 549.24,1347.12 539.74,1356.62 530.24,1347.12" fill="#be78e0"/>
<polygon points="568.87,1331.15 578.37,1340.65 568.87,1350.15 559.37,1340.65" fill="#be78e0"/>
<polygon points="597.99,1318.22 607.49,1327.72 597.99,1337.22 588.49,1327.72" fill="#be78e0"/>
<polygon points="627.12,1302.7 636.62,1312.2 627.12,1321.7 617.62,1312.2" fill="#be78e0"/>
<polygon points="656.24,1289.76 665.74,1299.26 656.24,1308.76 646.74,1299.26" fill="#be78e0"/>
<polygon points="685.36,1274.24 694.86,1283.74 685.36,1293.24 675.86,1283.74" fill="#be78e0"/>
<polygon points="714.49,1254.97 723.99,1264.47 714.49,1273.97 704.99,1264.47" fill="#be78e0"/>
<polygon points="743.61,1232.46 753.11,1241.96 743.61,1251.46 734.11,1241.96" fill="#be78e0"/>
<polygon points="772.74,1210.86 782.24,1220.36 772.74,1229.86 763.24,1220.36" fill="#be78e0"/>
<polygon points="801.86,1184.09 811.36,1193.59 801.86,1203.09 792.36,1193.59" fill="#be78e0"/>
<polygon points="830.98,1159.77 840.48,1169.27 830.98,1178.77 821.48,1169.27" fill="#be78e0"/>
<polygon points="860.11,1133.64 869.61,1143.14 860.11,1152.64 850.61,1143.14" fill="#be78e0"/>
<polygon points="889.23,1101.18 898.73,1110.68 889.23,1120.18 879.73,1110.68" fill="#be78e0"/>
<polygon points="918.36,1060.95 927.86,1070.45 918.36,1079.95 908.86,1070.45" fill="#be78e0"/>
<polygon points="947.48,1019.17 956.98,1028.67 947.48,1038.17 937.98,1028.67" fill="#be78e0"/>
<polygon points="976.61,979.98 986.11,989.48 976.61,998.98 967.11,989.48" fill="#be78e0"/>
<polygon points="1005.73,946.48 1015.23,955.98 1005.73,965.48 996.23,955.98" fill="#be78e0"/>
<polygon points="1034.85,919.06 1044.35,928.56 1034.85,938.06 1025.35,928.56" fill="#be78e0"/>
<polygon points="1063.98,895.26 1073.48,904.76 1063.98,914.26 1054.48,904.76" fill="#be78e0"/>
<polygon points="1093.1,873.92 1102.6,883.42 1093.1,892.92 1083.6,883.42" fill="#be78e0"/>
<polygon points="1122.23,855.81 1131.73,865.31 1122.23,874.81 1112.73,865.31" fill="#be78e0"/>
<polygon points="1151.35,844.17 1160.85,853.67 1151.35,863.17 1141.85,853.67" fill="#be78e0"/>
<polygon points="1180.48,834.98 1189.98,844.48 1180.48,853.98 1170.98,844.48" fill="#be78e0"/>
<polygon points="1209.6,824.12 1219.1,833.62 1209.6,843.12 1200.1,833.62" fill="#be78e0"/>
<polygon points="1238.74,807.43 1248.24,816.93 1238.74,826.43 1229.24,816.93" fill="#be78e0"/>
<polygon points="1267.89,775.74 1277.39,785.24 1267.89,794.74 1258.39,785.24" fill="#be78e0"/>
<polygon points="1297.03,733.19 1306.53,742.69 1297.03,752.19 1287.53,742.69" fill="#be78e0"/>
<polygon points="1326.17,676.41 1335.67,685.91 1326.17,695.41 1316.67,685.91" fill="#be78e0"/>
<polygon points="1355.32,474.89 1364.82,484.39 1355.32,493.89 1345.82,484.39" fill="#be78e0"/>
<polygon points="1384.46,411.51 1393.96,421.01 1384.46,430.51 1374.96,421.01" fill="#be78e0"/>
<polygon points="1413.61,349.42 1423.11,358.92 1413.61,368.42 1404.11,358.92" fill="#be78e0"/>
<polygon points="1442.75,265.35 1452.25,274.85 1442.75,284.35 1433.25,274.85" fill="#be78e0"/>
<polygon points="1471.7,229.13 1481.2,238.63 1471.7,248.13 1462.2,238.63" fill="#be78e0"/>
<polygon points="1500.6,217.75 1510.1,227.25 1500.6,236.75 1491.1,227.25" fill="#be78e0"/>
<polygon points="1530,134.06 1539.5,143.56 1530,153.06 1520.5,143.56" fill="#be78e0"/>
<polygon points="1559,134.06 1568.5,143.56 1559,153.06 1549.5,143.56" fill="#be78e0"/>
<polygon points="1588.9,134.06 1598.4,143.56 1588.9,153.06 1579.4,143.56" fill="#be78e0"/>
<polygon points="1610.16,54.26 1619.66,63.76 1610.16,73.26 1600.66,63.76" fill="#be78e0"/>
<polygon points="1731,48.05 1740.5,57.55 1731,67.05 1721.5,57.55" fill="#be78e0"/>
<polygon points="1827.83,48.05 1837.33,57.55 1827.83,67.05 1818.33,57.55" fill="#be78e0"/>
</g>
<g>
<path d="M257.5 1351L268.62 1351M286.62 1351L297.75 1351M315.75 1351L326.87 1351M344.87 1351L356 1351M374 1351L385.12 1351M403.12 1351L414.25 1351M432.25 1351L443.37 1351M461.37 1350.9L472.49 1350.78M490.49 1350.34L501.62 1349.92M519.57 1348.69L530.79 1347.58M548.67 1345.57L559.94 1344.14M576.98 1339.11L589.88 1332.91M605.36 1323.84L619.75 1313.74M634.35 1303.22L649.01 1292.36M664.07 1282.58L677.53 1274.98M693.8 1267.42L706.05 1262.88M722.91 1256.58L735.19 1251.98M752.07 1245.75L764.27 1241.34M780.77 1234.21L793.83 1227.6M809.52 1218.8L823.33 1210.25M838.34 1200.34L852.75 1190.2M867.11 1179.36L882.23 1167.13M895.57 1155.09L912.02 1138.53M924.22 1125.32L941.62 1105.03M953.07 1091.14L971.02 1068.48M982.25 1054.42L1000.08 1032.29M1011.54 1018.4L1029.05 997.65M1040.99 984.19L1057.85 966.06M1070.47 953.24L1086.61 937.74M1100.27 926.06L1115.06 914.85M1130.13 905.12L1143.45 897.87M1159.5 889.75L1172.33 883.74M1188.7 876.27L1201.37 870.64M1217.01 861.89L1231.33 852.04M1244.34 839.9L1262.29 817.32M1272.53 802.56L1292.39 769.61M1300.83 753.74L1322.38 707.45M1327.42 690.38L1354.07 499.77M1358.94 482.62L1380.84 432.81M1388.24 416.4L1409.83 369.68M1416.51 352.99L1439.84 284.66M1448.34 269.09L1466.11 246.66M1480.06 236.27L1492.24 231.42M1503.58 219.6L1527.02 152.7M1539 144.21L1550 144.21M1568 144.21L1579.9 144.21M1591.2 135.51L1607.85 72.59M1619.14 63.42L1722.01 58.02M1740 57.55L1818.83 57.55" stroke="#dc9a06" stroke-width="2.7" fill="none"/>
<polygon points="238.1,1351 253.7,1342.2 253.7,1359.8" fill="#dc9a06"/>
<polygon points="267.22,1351 282.82,1342.2 282.82,1359.8" fill="#dc9a06"/>
<polygon points="296.35,1351 311.95,1342.2 311.95,1359.8" fill="#dc9a06"/>
<polygon points="325.47,1351 341.07,1342.2 341.07,1359.8" fill="#dc9a06"/>
<polygon points="354.6,1351 370.2,1342.2 370.2,1359.8" fill="#dc9a06"/>
<polygon points="383.72,1351 399.32,1342.2 399.32,1359.8" fill="#dc9a06"/>
<polygon points="412.85,1351 428.45,1342.2 428.45,1359.8" fill="#dc9a06"/>
<polygon points="441.97,1351 457.57,1342.2 457.57,1359.8" fill="#dc9a06"/>
<polygon points="471.09,1350.68 486.69,1341.88 486.69,1359.48" fill="#dc9a06"/>
<polygon points="500.22,1349.58 515.82,1340.78 515.82,1358.38" fill="#dc9a06"/>
<polygon points="529.34,1346.7 544.94,1337.9 544.94,1355.5" fill="#dc9a06"/>
<polygon points="558.47,1343.01 574.07,1334.21 574.07,1351.81" fill="#dc9a06"/>
<polygon points="587.59,1329.01 603.19,1320.21 603.19,1337.81" fill="#dc9a06"/>
<polygon points="616.72,1308.57 632.32,1299.77 632.32,1317.37" fill="#dc9a06"/>
<polygon points="645.84,1287.01 661.44,1278.21 661.44,1295.81" fill="#dc9a06"/>
<polygon points="674.96,1270.55 690.56,1261.75 690.56,1279.35" fill="#dc9a06"/>
<polygon points="704.09,1259.75 719.69,1250.95 719.69,1268.55" fill="#dc9a06"/>
<polygon points="733.21,1248.82 748.81,1240.02 748.81,1257.62" fill="#dc9a06"/>
<polygon points="762.34,1238.28 777.94,1229.48 777.94,1247.08" fill="#dc9a06"/>
<polygon points="791.46,1223.53 807.06,1214.73 807.06,1232.33" fill="#dc9a06"/>
<polygon points="820.58,1205.52 836.18,1196.72 836.18,1214.32" fill="#dc9a06"/>
<polygon points="849.71,1185.02 865.31,1176.22 865.31,1193.82" fill="#dc9a06"/>
<polygon points="878.83,1161.48 894.43,1152.68 894.43,1170.28" fill="#dc9a06"/>
<polygon points="907.96,1132.15 923.56,1123.35 923.56,1140.95" fill="#dc9a06"/>
<polygon points="937.08,1098.2 952.68,1089.4 952.68,1107" fill="#dc9a06"/>
<polygon points="966.21,1061.43 981.81,1052.63 981.81,1070.23" fill="#dc9a06"/>
<polygon points="995.33,1025.28 1010.93,1016.48 1010.93,1034.08" fill="#dc9a06"/>
<polygon points="1024.45,990.77 1040.05,981.97 1040.05,999.57" fill="#dc9a06"/>
<polygon points="1053.58,959.47 1069.18,950.67 1069.18,968.27" fill="#dc9a06"/>
<polygon points="1082.7,931.5 1098.3,922.7 1098.3,940.3" fill="#dc9a06"/>
<polygon points="1111.83,909.42 1127.43,900.62 1127.43,918.22" fill="#dc9a06"/>
<polygon points="1140.95,893.57 1156.55,884.77 1156.55,902.37" fill="#dc9a06"/>
<polygon points="1170.08,879.93 1185.68,871.13 1185.68,888.73" fill="#dc9a06"/>
<polygon points="1199.2,866.99 1214.8,858.19 1214.8,875.79" fill="#dc9a06"/>
<polygon points="1228.34,846.94 1243.94,838.14 1243.94,855.74" fill="#dc9a06"/>
<polygon points="1257.49,810.27 1273.09,801.47 1273.09,819.07" fill="#dc9a06"/>
<polygon points="1286.63,761.9 1302.23,753.1 1302.23,770.7" fill="#dc9a06"/>
<polygon points="1315.77,699.3 1331.38,690.5 1331.38,708.1" fill="#dc9a06"/>
<polygon points="1344.92,490.86 1360.52,482.06 1360.52,499.66" fill="#dc9a06"/>
<polygon points="1374.06,424.57 1389.66,415.77 1389.66,433.37" fill="#dc9a06"/>
<polygon points="1403.21,361.51 1418.81,352.71 1418.81,370.31" fill="#dc9a06"/>
<polygon points="1432.35,276.14 1447.95,267.34 1447.95,284.94" fill="#dc9a06"/>
<polygon points="1461.3,239.6 1476.9,230.8 1476.9,248.4" fill="#dc9a06"/>
<polygon points="1490.2,228.09 1505.8,219.29 1505.8,236.89" fill="#dc9a06"/>
<polygon points="1519.6,144.21 1535.2,135.41 1535.2,153.01" fill="#dc9a06"/>
<polygon points="1548.6,144.21 1564.2,135.41 1564.2,153.01" fill="#dc9a06"/>
<polygon points="1578.5,144.21 1594.1,135.41 1594.1,153.01" fill="#dc9a06"/>
<polygon points="1599.76,63.89 1615.36,55.09 1615.36,72.69" fill="#dc9a06"/>
<polygon points="1720.6,57.55 1736.2,48.75 1736.2,66.35" fill="#dc9a06"/>
<polygon points="1817.43,57.55 1833.03,48.75 1833.03,66.35" fill="#dc9a06"/>
</g>
<g>
<path d="M257.5 1351L268.62 1351M286.62 1351L297.75 1351M315.75 1351L326.87 1351M344.87 1351L356 1351M374 1351L385.12 1351M403.12 1351L414.25 1351M432.25 1351L443.37 1351M461.37 1350.8L472.5 1350.55M490.47 1349.68L501.64 1348.83M519.54 1346.99L530.82 1345.51M548.67 1343.17L559.94 1341.69M576.41 1335.61L590.45 1326.48M604.03 1314.9L621.07 1296.1M632.64 1282.33L650.72 1259.06M662.97 1245.98L678.63 1232.09M693.57 1222.43L706.28 1216.71M722.95 1209.97L735.15 1205.57M752.11 1199.55L764.24 1195.32M780.71 1188.19L793.89 1181.3M809.23 1171.96L823.62 1161.86M838.03 1151.1L853.06 1139.17M867.15 1127.97L882.19 1116.02M895.9 1104.38L911.69 1090.07M924.59 1077.54L941.24 1060.22M953.44 1046.99L970.65 1027.5M982.73 1014.16L999.6 996.01M1011.92 982.88L1028.66 965.23M1041.41 952.53L1057.42 937.5M1070.89 925.57L1086.19 912.79M1100.56 901.99L1114.77 892.4M1130.37 883.52L1143.21 877.46M1159.73 870.34L1172.1 865.49M1188.81 858.8L1201.27 853.71M1217.21 845.51L1231.13 836.74M1244.58 825.09L1262.05 804.61M1272.74 790.18L1292.17 759.87M1300.98 744.21L1322.23 700.69M1327.44 683.69L1354.05 496.53M1359.01 479.41L1380.77 431M1388.26 414.63L1409.81 368.38M1416.53 351.71L1439.82 284.01M1448.35 268.45L1466.1 246.16M1480.07 235.8L1492.23 230.99M1503.58 219.18L1527.02 152.38M1539 143.89L1550 143.89M1568 143.89L1579.9 143.89M1591.21 135.19L1607.85 72.52M1619.14 63.36L1722.01 58.02M1740 57.55L1818.83 57.55" stroke="#00c8cc" stroke-width="2.7" fill="none"/>
<polygon points="258.9,1351 243.3,1342.2 243.3,1359.8" fill="#00c8cc"/>
<polygon points="288.02,1351 272.42,1342.2 272.42,1359.8" fill="#00c8cc"/>
<polygon points="317.15,1351 301.55,1342.2 301.55,1359.8" fill="#00c8cc"/>
<polygon points="346.27,1351 330.67,1342.2 330.67,1359.8" fill="#00c8cc"/>
<polygon points="375.4,1351 359.8,1342.2 359.8,1359.8" fill="#00c8cc"/>
<polygon points="404.52,1351 388.92,1342.2 388.92,1359.8" fill="#00c8cc"/>
<polygon points="433.65,1351 418.05,1342.2 418.05,1359.8" fill="#00c8cc"/>
<polygon points="462.77,1351 447.17,1342.2 447.17,1359.8" fill="#00c8cc"/>
<polygon points="491.89,1350.35 476.29,1341.55 476.29,1359.15" fill="#00c8cc"/>
<polygon points="521.02,1348.15 505.42,1339.35 505.42,1356.95" fill="#00c8cc"/>
<polygon points="550.14,1344.34 534.54,1335.54 534.54,1353.14" fill="#00c8cc"/>
<polygon points="579.27,1340.52 563.67,1331.72 563.67,1349.32" fill="#00c8cc"/>
<polygon points="608.39,1321.57 592.79,1312.77 592.79,1330.37" fill="#00c8cc"/>
<polygon points="637.52,1289.43 621.92,1280.63 621.92,1298.23" fill="#00c8cc"/>
<polygon points="666.64,1251.95 651.04,1243.15 651.04,1260.75" fill="#00c8cc"/>
<polygon points="695.76,1226.12 680.16,1217.32 680.16,1234.92" fill="#00c8cc"/>
<polygon points="724.89,1213.02 709.29,1204.22 709.29,1221.82" fill="#00c8cc"/>
<polygon points="754.01,1202.51 738.41,1193.71 738.41,1211.31" fill="#00c8cc"/>
<polygon points="783.14,1192.36 767.54,1183.56 767.54,1201.16" fill="#00c8cc"/>
<polygon points="812.26,1177.13 796.66,1168.33 796.66,1185.93" fill="#00c8cc"/>
<polygon points="841.38,1156.69 825.78,1147.89 825.78,1165.49" fill="#00c8cc"/>
<polygon points="870.51,1133.57 854.91,1124.77 854.91,1142.37" fill="#00c8cc"/>
<polygon points="899.63,1110.42 884.03,1101.62 884.03,1119.22" fill="#00c8cc"/>
<polygon points="928.76,1084.03 913.16,1075.23 913.16,1092.83" fill="#00c8cc"/>
<polygon points="957.88,1053.73 942.28,1044.93 942.28,1062.53" fill="#00c8cc"/>
<polygon points="987.01,1020.75 971.41,1011.95 971.41,1029.55" fill="#00c8cc"/>
<polygon points="1016.13,989.42 1000.53,980.62 1000.53,998.22" fill="#00c8cc"/>
<polygon points="1045.25,958.7 1029.65,949.9 1029.65,967.5" fill="#00c8cc"/>
<polygon points="1074.38,931.34 1058.78,922.54 1058.78,940.14" fill="#00c8cc"/>
<polygon points="1103.5,907.02 1087.9,898.22 1087.9,915.82" fill="#00c8cc"/>
<polygon points="1132.63,887.36 1117.03,878.56 1117.03,896.16" fill="#00c8cc"/>
<polygon points="1161.75,873.62 1146.15,864.82 1146.15,882.42" fill="#00c8cc"/>
<polygon points="1190.88,862.21 1175.28,853.41 1175.28,871.01" fill="#00c8cc"/>
<polygon points="1220,850.31 1204.4,841.51 1204.4,859.11" fill="#00c8cc"/>
<polygon points="1249.14,831.94 1233.54,823.14 1233.54,840.74" fill="#00c8cc"/>
<polygon points="1278.29,797.76 1262.69,788.96 1262.69,806.56" fill="#00c8cc"/>
<polygon points="1307.43,752.29 1291.83,743.49 1291.83,761.09" fill="#00c8cc"/>
<polygon points="1336.58,692.6 1320.97,683.8 1320.97,701.4" fill="#00c8cc"/>
<polygon points="1365.72,487.62 1350.12,478.82 1350.12,496.42" fill="#00c8cc"/>
<polygon points="1394.86,422.79 1379.26,413.99 1379.26,431.59" fill="#00c8cc"/>
<polygon points="1424.01,360.22 1408.41,351.42 1408.41,369.02" fill="#00c8cc"/>
<polygon points="1453.15,275.5 1437.55,266.7 1437.55,284.3" fill="#00c8cc"/>
<polygon points="1482.1,239.12 1466.5,230.32 1466.5,247.92" fill="#00c8cc"/>
<polygon points="1511,227.67 1495.4,218.87 1495.4,236.47" fill="#00c8cc"/>
<polygon points="1540.4,143.89 1524.8,135.09 1524.8,152.69" fill="#00c8cc"/>
<polygon points="1569.4,143.89 1553.8,135.09 1553.8,152.69" fill="#00c8cc"/>
<polygon points="1599.3,143.89 1583.7,135.09 1583.7,152.69" fill="#00c8cc"/>
<polygon points="1620.56,63.82 1604.96,55.02 1604.96,72.62" fill="#00c8cc"/>
<polygon points="1741.4,57.55 1725.8,48.75 1725.8,66.35" fill="#00c8cc"/>
<polygon points="1838.23,57.55 1822.63,48.75 1822.63,66.35" fill="#00c8cc"/>
</g>
<g>
<path d="M257.5 1351L268.62 1351M286.62 1351L297.75 1351M315.75 1351L326.87 1351M344.87 1351L356 1351M374 1351L385.12 1351M403.12 1351L414.25 1351M432.25 1351L443.37 1351M461.36 1350.7L472.5 1350.33M490.44 1349.02L501.68 1347.74M519.5 1345.28L530.86 1343.43M548.66 1340.77L559.95 1339.24M575.82 1332.32L591.03 1319.85M602.97 1306.64L622.14 1277.79M631.43 1262.39L651.93 1224.8M661.98 1209.97L679.63 1188.62M693.32 1177.48L706.53 1170.5M722.99 1163.35L735.11 1159.15M752.15 1153.35L764.2 1149.3M780.66 1142.17L793.94 1135M808.94 1125.17L823.91 1113.42M837.73 1101.9L853.37 1088.08M867.2 1076.58L882.14 1064.9M896.24 1053.72L911.35 1041.56M925 1029.84L940.84 1015.35M953.84 1002.9L970.25 986.44M983.26 974.01L999.08 959.61M1012.34 947.44L1028.25 932.73M1041.87 920.98L1056.96 908.85M1071.32 898L1085.76 887.75M1100.85 877.96L1114.48 869.89M1130.58 861.97L1142.99 857.01M1159.93 850.96L1171.89 847.19M1188.91 841.34L1201.17 836.77M1217.41 829.15L1230.93 821.41M1244.84 810.31L1261.8 791.87M1272.97 777.82L1291.95 750.12M1301.14 734.68L1322.07 693.91M1327.46 677L1354.03 493.3M1359.08 476.21L1380.7 429.19M1388.29 412.86L1409.78 367.07M1416.55 350.42L1439.8 283.35M1448.37 267.82L1466.08 245.66M1480.07 235.33L1492.23 230.55M1503.58 218.76L1527.02 152.06M1539 143.56L1550 143.56M1568 143.56L1579.9 143.56M1591.22 134.87L1607.84 72.46M1619.14 63.3L1722.01 58.01M1740 57.55L1818.83 57.55" stroke="#8a4c4e" stroke-width="2.8" fill="none"/>
<polygon points="248.5,1342.6 255.77,1346.8 255.77,1355.2 248.5,1359.4 241.23,1355.2 241.23,1346.8" fill="#8a4c4e"/>
<polygon points="277.62,1342.6 284.9,1346.8 284.9,1355.2 277.62,1359.4 270.35,1355.2 270.35,1346.8" fill="#8a4c4e"/>
<polygon points="306.75,1342.6 314.02,1346.8 314.02,1355.2 306.75,1359.4 299.47,1355.2 299.47,1346.8" fill="#8a4c4e"/>
<polygon points="335.87,1342.6 343.15,1346.8 343.15,1355.2 335.87,1359.4 328.6,1355.2 328.6,1346.8" fill="#8a4c4e"/>
<polygon points="365,1342.6 372.27,1346.8 372.27,1355.2 365,1359.4 357.72,1355.2 357.72,1346.8" fill="#8a4c4e"/>
<polygon points="394.12,1342.6 401.4,1346.8 401.4,1355.2 394.12,1359.4 386.85,1355.2 386.85,1346.8" fill="#8a4c4e"/>
<polygon points="423.25,1342.6 430.52,1346.8 430.52,1355.2 423.25,1359.4 415.97,1355.2 415.97,1346.8" fill="#8a4c4e"/>
<polygon points="452.37,1342.6 459.64,1346.8 459.64,1355.2 452.37,1359.4 445.1,1355.2 445.1,1346.8" fill="#8a4c4e"/>
<polygon points="481.49,1341.63 488.77,1345.83 488.77,1354.23 481.49,1358.43 474.22,1354.23 474.22,1345.83" fill="#8a4c4e"/>
<polygon points="510.62,1338.33 517.89,1342.53 517.89,1350.93 510.62,1355.13 503.34,1350.93 503.34,1342.53" fill="#8a4c4e"/>
<polygon points="539.74,1333.58 547.02,1337.78 547.02,1346.18 539.74,1350.38 532.47,1346.18 532.47,1337.78" fill="#8a4c4e"/>
<polygon points="568.87,1329.63 576.14,1333.83 576.14,1342.23 568.87,1346.43 561.59,1342.23 561.59,1333.83" fill="#8a4c4e"/>
<polygon points="597.99,1305.74 605.27,1309.94 605.27,1318.34 597.99,1322.54 590.72,1318.34 590.72,1309.94" fill="#8a4c4e"/>
<polygon points="627.12,1261.89 634.39,1266.09 634.39,1274.49 627.12,1278.69 619.84,1274.49 619.84,1266.09" fill="#8a4c4e"/>
<polygon points="656.24,1208.5 663.51,1212.7 663.51,1221.1 656.24,1225.3 648.96,1221.1 648.96,1212.7" fill="#8a4c4e"/>
<polygon points="685.36,1173.29 692.64,1177.49 692.64,1185.89 685.36,1190.09 678.09,1185.89 678.09,1177.49" fill="#8a4c4e"/>
<polygon points="714.49,1157.9 721.76,1162.1 721.76,1170.5 714.49,1174.7 707.21,1170.5 707.21,1162.1" fill="#8a4c4e"/>
<polygon points="743.61,1147.81 750.89,1152.01 750.89,1160.41 743.61,1164.61 736.34,1160.41 736.34,1152.01" fill="#8a4c4e"/>
<polygon points="772.74,1138.04 780.01,1142.24 780.01,1150.64 772.74,1154.84 765.46,1150.64 765.46,1142.24" fill="#8a4c4e"/>
<polygon points="801.86,1122.33 809.14,1126.53 809.14,1134.93 801.86,1139.13 794.59,1134.93 794.59,1126.53" fill="#8a4c4e"/>
<polygon points="830.98,1099.46 838.26,1103.66 838.26,1112.06 830.98,1116.26 823.71,1112.06 823.71,1103.66" fill="#8a4c4e"/>
<polygon points="860.11,1073.72 867.38,1077.92 867.38,1086.32 860.11,1090.52 852.83,1086.32 852.83,1077.92" fill="#8a4c4e"/>
<polygon points="889.23,1050.96 896.51,1055.16 896.51,1063.56 889.23,1067.76 881.96,1063.56 881.96,1055.16" fill="#8a4c4e"/>
<polygon points="918.36,1027.52 925.63,1031.72 925.63,1040.12 918.36,1044.32 911.08,1040.12 911.08,1031.72" fill="#8a4c4e"/>
<polygon points="947.48,1000.87 954.76,1005.07 954.76,1013.47 947.48,1017.67 940.21,1013.47 940.21,1005.07" fill="#8a4c4e"/>
<polygon points="976.61,971.67 983.88,975.87 983.88,984.27 976.61,988.47 969.33,984.27 969.33,975.87" fill="#8a4c4e"/>
<polygon points="1005.73,945.16 1013,949.36 1013,957.76 1005.73,961.96 998.46,957.76 998.46,949.36" fill="#8a4c4e"/>
<polygon points="1034.85,918.22 1042.13,922.42 1042.13,930.82 1034.85,935.02 1027.58,930.82 1027.58,922.42" fill="#8a4c4e"/>
<polygon points="1063.98,894.81 1071.25,899.01 1071.25,907.41 1063.98,911.61 1056.7,907.41 1056.7,899.01" fill="#8a4c4e"/>
<polygon points="1093.1,874.14 1100.38,878.34 1100.38,886.74 1093.1,890.94 1085.83,886.74 1085.83,878.34" fill="#8a4c4e"/>
<polygon points="1122.23,856.91 1129.5,861.11 1129.5,869.51 1122.23,873.71 1114.95,869.51 1114.95,861.11" fill="#8a4c4e"/>
<polygon points="1151.35,845.27 1158.63,849.47 1158.63,857.87 1151.35,862.07 1144.08,857.87 1144.08,849.47" fill="#8a4c4e"/>
<polygon points="1180.48,836.08 1187.75,840.28 1187.75,848.68 1180.48,852.88 1173.2,848.68 1173.2,840.28" fill="#8a4c4e"/>
<polygon points="1209.6,825.22 1216.87,829.42 1216.87,837.82 1209.6,842.02 1202.33,837.82 1202.33,829.42" fill="#8a4c4e"/>
<polygon points="1238.74,808.53 1246.02,812.73 1246.02,821.13 1238.74,825.33 1231.47,821.13 1231.47,812.73" fill="#8a4c4e"/>
<polygon points="1267.89,776.84 1275.16,781.04 1275.16,789.44 1267.89,793.64 1260.61,789.44 1260.61,781.04" fill="#8a4c4e"/>
<polygon points="1297.03,734.29 1304.31,738.49 1304.31,746.89 1297.03,751.09 1289.76,746.89 1289.76,738.49" fill="#8a4c4e"/>
<polygon points="1326.17,677.51 1333.45,681.71 1333.45,690.11 1326.17,694.31 1318.9,690.11 1318.9,681.71" fill="#8a4c4e"/>
<polygon points="1355.32,475.99 1362.59,480.19 1362.59,488.59 1355.32,492.79 1348.04,488.59 1348.04,480.19" fill="#8a4c4e"/>
<polygon points="1384.46,412.61 1391.74,416.81 1391.74,425.21 1384.46,429.41 1377.19,425.21 1377.19,416.81" fill="#8a4c4e"/>
<polygon points="1413.61,350.52 1420.88,354.72 1420.88,363.12 1413.61,367.32 1406.33,363.12 1406.33,354.72" fill="#8a4c4e"/>
<polygon points="1442.75,266.45 1450.02,270.65 1450.02,279.05 1442.75,283.25 1435.48,279.05 1435.48,270.65" fill="#8a4c4e"/>
<polygon points="1471.7,230.23 1478.97,234.43 1478.97,242.83 1471.7,247.03 1464.43,242.83 1464.43,234.43" fill="#8a4c4e"/>
<polygon points="1500.6,218.85 1507.87,223.05 1507.87,231.45 1500.6,235.65 1493.33,231.45 1493.33,223.05" fill="#8a4c4e"/>
<polygon points="1530,135.16 1537.27,139.36 1537.27,147.76 1530,151.96 1522.73,147.76 1522.73,139.36" fill="#8a4c4e"/>
<polygon points="1559,135.16 1566.27,139.36 1566.27,147.76 1559,151.96 1551.73,147.76 1551.73,139.36" fill="#8a4c4e"/>
<polygon points="1588.9,135.16 1596.17,139.36 1596.17,147.76 1588.9,151.96 1581.63,147.76 1581.63,139.36" fill="#8a4c4e"/>
<polygon points="1610.16,55.36 1617.43,59.56 1617.43,67.96 1610.16,72.16 1602.88,67.96 1602.88,59.56" fill="#8a4c4e"/>
<polygon points="1731,49.15 1738.27,53.35 1738.27,61.75 1731,65.95 1723.72,61.75 1723.72,53.35" fill="#8a4c4e"/>
<polygon points="1827.83,49.15 1835.11,53.35 1835.11,61.75 1827.83,65.95 1820.56,61.75 1820.56,53.35" fill="#8a4c4e"/>
</g>
<g>
<path d="M257.5 1351L268.62 1351M286.62 1351L297.75 1351M315.75 1351L326.87 1351M344.87 1351L356 1351M374 1351L385.12 1351M403.12 1351L414.25 1351M432.25 1351L443.37 1351M461.37 1350.9L472.49 1350.78M490.49 1350.34L501.62 1349.92M519.55 1348.5L530.81 1347.13M548.63 1344.63L559.98 1342.82M576.83 1337.21L590.02 1330.29M605.09 1320.57L620.02 1308.93M634.06 1297.68L649.29 1285.13M663.74 1274.44L677.86 1265.1M693.43 1256.15L706.42 1249.73M722.53 1241.7L735.57 1235.14M751.71 1227.18L764.64 1220.92M780.28 1212.1L794.31 1202.98M809.17 1192.83L823.68 1182.41M838.02 1171.55L853.08 1159.53M866.78 1147.87L882.56 1133.57M895.29 1120.87L912.3 1102.2M924.08 1088.6L941.76 1067.15M953.11 1053.18L970.98 1030.91M982.49 1017.08L999.84 997.03M1011.91 983.68L1028.68 965.89M1041.4 953.17L1057.43 938.03M1070.86 926.06L1086.22 913.11M1100.53 902.23L1114.8 892.45M1130.37 883.52L1143.21 877.46M1159.73 870.34L1172.1 865.49M1188.81 858.8L1201.27 853.71M1217.21 845.51L1231.13 836.74M1244.58 825.09L1262.05 804.61M1272.74 790.18L1292.17 759.87M1300.98 744.21L1322.23 700.69M1327.44 683.69L1354.05 496.53M1359.01 479.41L1380.77 431M1388.26 414.63L1409.81 368.38M1416.53 351.71L1439.82 284.01M1448.35 268.45L1466.1 246.16M1480.07 235.8L1492.23 230.99M1503.58 219.18L1527.02 152.38M1539 143.89L1550 143.89M1568 143.89L1579.9 143.89M1591.21 135.19L1607.85 72.52M1619.14 63.36L1722.01 58.02M1740 57.55L1818.83 57.55" stroke="#8e8e00" stroke-width="2.8" fill="none"/>
<polygon points="248.5,1342.8 250.67,1348.61 256.87,1348.88 252.02,1352.74 253.67,1358.72 248.5,1355.3 243.33,1358.72 244.98,1352.74 240.13,1348.88 246.33,1348.61" fill="#8e8e00"/>
<polygon points="277.62,1342.8 279.8,1348.61 285.99,1348.88 281.14,1352.74 282.8,1358.72 277.62,1355.3 272.45,1358.72 274.11,1352.74 269.25,1348.88 275.45,1348.61" fill="#8e8e00"/>
<polygon points="306.75,1342.8 308.92,1348.61 315.12,1348.88 310.27,1352.74 311.92,1358.72 306.75,1355.3 301.58,1358.72 303.23,1352.74 298.38,1348.88 304.57,1348.61" fill="#8e8e00"/>
<polygon points="335.87,1342.8 338.05,1348.61 344.24,1348.88 339.39,1352.74 341.05,1358.72 335.87,1355.3 330.7,1358.72 332.35,1352.74 327.5,1348.88 333.7,1348.61" fill="#8e8e00"/>
<polygon points="365,1342.8 367.17,1348.61 373.37,1348.88 368.52,1352.74 370.17,1358.72 365,1355.3 359.82,1358.72 361.48,1352.74 356.63,1348.88 362.82,1348.61" fill="#8e8e00"/>
<polygon points="394.12,1342.8 396.3,1348.61 402.49,1348.88 397.64,1352.74 399.29,1358.72 394.12,1355.3 388.95,1358.72 390.6,1352.74 385.75,1348.88 391.95,1348.61" fill="#8e8e00"/>
<polygon points="423.25,1342.8 425.42,1348.61 431.61,1348.88 426.76,1352.74 428.42,1358.72 423.25,1355.3 418.07,1358.72 419.73,1352.74 414.88,1348.88 421.07,1348.61" fill="#8e8e00"/>
<polygon points="452.37,1342.8 454.54,1348.61 460.74,1348.88 455.89,1352.74 457.54,1358.72 452.37,1355.3 447.2,1358.72 448.85,1352.74 444,1348.88 450.19,1348.61" fill="#8e8e00"/>
<polygon points="481.49,1342.48 483.67,1348.28 489.86,1348.56 485.01,1352.42 486.67,1358.4 481.49,1354.98 476.32,1358.4 477.98,1352.42 473.12,1348.56 479.32,1348.28" fill="#8e8e00"/>
<polygon points="510.62,1341.38 512.79,1347.18 518.99,1347.46 514.14,1351.32 515.79,1357.3 510.62,1353.88 505.45,1357.3 507.1,1351.32 502.25,1347.46 508.44,1347.18" fill="#8e8e00"/>
<polygon points="539.74,1337.85 541.92,1343.66 548.11,1343.93 543.26,1347.8 544.91,1353.77 539.74,1350.35 534.57,1353.77 536.22,1347.8 531.37,1343.93 537.57,1343.66" fill="#8e8e00"/>
<polygon points="568.87,1333.2 571.04,1339 577.24,1339.28 572.39,1343.14 574.04,1349.12 568.87,1345.7 563.69,1349.12 565.35,1343.14 560.5,1339.28 566.69,1339" fill="#8e8e00"/>
<polygon points="597.99,1317.9 600.17,1323.71 606.36,1323.98 601.51,1327.84 603.16,1333.82 597.99,1330.4 592.82,1333.82 594.47,1327.84 589.62,1323.98 595.82,1323.71" fill="#8e8e00"/>
<polygon points="627.12,1295.2 629.29,1301.01 635.48,1301.28 630.63,1305.14 632.29,1311.12 627.12,1307.7 621.94,1311.12 623.6,1305.14 618.75,1301.28 624.94,1301.01" fill="#8e8e00"/>
<polygon points="656.24,1271.21 658.41,1277.01 664.61,1277.29 659.76,1281.15 661.41,1287.13 656.24,1283.71 651.07,1287.13 652.72,1281.15 647.87,1277.29 654.06,1277.01" fill="#8e8e00"/>
<polygon points="685.36,1251.94 687.54,1257.74 693.73,1258.02 688.88,1261.88 690.54,1267.85 685.36,1264.44 680.19,1267.85 681.84,1261.88 676.99,1258.02 683.19,1257.74" fill="#8e8e00"/>
<polygon points="714.49,1237.55 716.66,1243.35 722.86,1243.63 718.01,1247.49 719.66,1253.46 714.49,1250.05 709.32,1253.46 710.97,1247.49 706.12,1243.63 712.31,1243.35" fill="#8e8e00"/>
<polygon points="743.61,1222.9 745.79,1228.7 751.98,1228.98 747.13,1232.84 748.78,1238.82 743.61,1235.4 738.44,1238.82 740.09,1232.84 735.24,1228.98 741.44,1228.7" fill="#8e8e00"/>
<polygon points="772.74,1208.8 774.91,1214.61 781.11,1214.88 776.26,1218.74 777.91,1224.72 772.74,1221.3 767.56,1224.72 769.22,1218.74 764.37,1214.88 770.56,1214.61" fill="#8e8e00"/>
<polygon points="801.86,1189.88 804.04,1195.69 810.23,1195.96 805.38,1199.83 807.03,1205.8 801.86,1202.38 796.69,1205.8 798.34,1199.83 793.49,1195.96 799.69,1195.69" fill="#8e8e00"/>
<polygon points="830.98,1168.96 833.16,1174.77 839.35,1175.04 834.5,1178.9 836.16,1184.88 830.98,1181.46 825.81,1184.88 827.47,1178.9 822.62,1175.04 828.81,1174.77" fill="#8e8e00"/>
<polygon points="860.11,1145.71 862.28,1151.52 868.48,1151.79 863.63,1155.65 865.28,1161.63 860.11,1158.21 854.94,1161.63 856.59,1155.65 851.74,1151.79 857.93,1151.52" fill="#8e8e00"/>
<polygon points="889.23,1119.32 891.41,1125.13 897.6,1125.4 892.75,1129.27 894.41,1135.24 889.23,1131.82 884.06,1135.24 885.71,1129.27 880.86,1125.4 887.06,1125.13" fill="#8e8e00"/>
<polygon points="918.36,1087.34 920.53,1093.15 926.73,1093.42 921.88,1097.29 923.53,1103.26 918.36,1099.84 913.19,1103.26 914.84,1097.29 909.99,1093.42 916.18,1093.15" fill="#8e8e00"/>
<polygon points="947.48,1052 949.66,1057.81 955.85,1058.08 951,1061.94 952.65,1067.92 947.48,1064.5 942.31,1067.92 943.96,1061.94 939.11,1058.08 945.31,1057.81" fill="#8e8e00"/>
<polygon points="976.61,1015.69 978.78,1021.49 984.98,1021.77 980.12,1025.63 981.78,1031.61 976.61,1028.19 971.43,1031.61 973.09,1025.63 968.24,1021.77 974.43,1021.49" fill="#8e8e00"/>
<polygon points="1005.73,982.02 1007.91,987.83 1014.1,988.11 1009.25,991.97 1010.9,997.94 1005.73,994.52 1000.56,997.94 1002.21,991.97 997.36,988.11 1003.56,987.83" fill="#8e8e00"/>
<polygon points="1034.85,951.14 1037.03,956.95 1043.22,957.22 1038.37,961.09 1040.03,967.06 1034.85,963.64 1029.68,967.06 1031.34,961.09 1026.49,957.22 1032.68,956.95" fill="#8e8e00"/>
<polygon points="1063.98,923.66 1066.15,929.46 1072.35,929.74 1067.5,933.6 1069.15,939.58 1063.98,936.16 1058.81,939.58 1060.46,933.6 1055.61,929.74 1061.8,929.46" fill="#8e8e00"/>
<polygon points="1093.1,899.11 1095.28,904.92 1101.47,905.19 1096.62,909.06 1098.28,915.03 1093.1,911.61 1087.93,915.03 1089.58,909.06 1084.73,905.19 1090.93,904.92" fill="#8e8e00"/>
<polygon points="1122.23,879.16 1124.4,884.97 1130.6,885.24 1125.75,889.11 1127.4,895.08 1122.23,891.66 1117.05,895.08 1118.71,889.11 1113.86,885.24 1120.05,884.97" fill="#8e8e00"/>
<polygon points="1151.35,865.42 1153.53,871.23 1159.72,871.5 1154.87,875.36 1156.52,881.34 1151.35,877.92 1146.18,881.34 1147.83,875.36 1142.98,871.5 1149.18,871.23" fill="#8e8e00"/>
<polygon points="1180.48,854.01 1182.65,859.81 1188.85,860.09 1183.99,863.95 1185.65,869.92 1180.48,866.51 1175.3,869.92 1176.96,863.95 1172.11,860.09 1178.3,859.81" fill="#8e8e00"/>
<polygon points="1209.6,842.11 1211.77,847.91 1217.97,848.19 1213.12,852.05 1214.77,858.02 1209.6,854.61 1204.43,858.02 1206.08,852.05 1201.23,848.19 1207.43,847.91" fill="#8e8e00"/>
<polygon points="1238.74,823.74 1240.92,829.55 1247.11,829.82 1242.26,833.68 1243.92,839.66 1238.74,836.24 1233.57,839.66 1235.22,833.68 1230.37,829.82 1236.57,829.55" fill="#8e8e00"/>
<polygon points="1267.89,789.56 1270.06,795.37 1276.26,795.64 1271.41,799.5 1273.06,805.48 1267.89,802.06 1262.71,805.48 1264.37,799.5 1259.52,795.64 1265.71,795.37" fill="#8e8e00"/>
<polygon points="1297.03,744.09 1299.21,749.9 1305.4,750.17 1300.55,754.04 1302.2,760.01 1297.03,756.59 1291.86,760.01 1293.51,754.04 1288.66,750.17 1294.86,749.9" fill="#8e8e00"/>
<polygon points="1326.17,684.4 1328.35,690.21 1334.54,690.48 1329.69,694.34 1331.35,700.32 1326.17,696.9 1321,700.32 1322.66,694.34 1317.81,690.48 1324,690.21" fill="#8e8e00"/>
<polygon points="1355.32,479.42 1357.49,485.23 1363.69,485.5 1358.84,489.37 1360.49,495.34 1355.32,491.92 1350.15,495.34 1351.8,489.37 1346.95,485.5 1353.14,485.23" fill="#8e8e00"/>
<polygon points="1384.46,414.59 1386.64,420.39 1392.83,420.67 1387.98,424.53 1389.64,430.51 1384.46,427.09 1379.29,430.51 1380.94,424.53 1376.09,420.67 1382.29,420.39" fill="#8e8e00"/>
<polygon points="1413.61,352.02 1415.78,357.82 1421.98,358.1 1417.13,361.96 1418.78,367.94 1413.61,364.52 1408.43,367.94 1410.09,361.96 1405.24,358.1 1411.43,357.82" fill="#8e8e00"/>
<polygon points="1442.75,267.3 1444.92,273.1 1451.12,273.38 1446.27,277.24 1447.92,283.22 1442.75,279.8 1437.58,283.22 1439.23,277.24 1434.38,273.38 1440.58,273.1" fill="#8e8e00"/>
<polygon points="1471.7,230.92 1473.87,236.72 1480.07,237 1475.22,240.86 1476.87,246.84 1471.7,243.42 1466.53,246.84 1468.18,240.86 1463.33,237 1469.53,236.72" fill="#8e8e00"/>
<polygon points="1500.6,219.47 1502.77,225.28 1508.97,225.55 1504.12,229.41 1505.77,235.39 1500.6,231.97 1495.43,235.39 1497.08,229.41 1492.23,225.55 1498.43,225.28" fill="#8e8e00"/>
<polygon points="1530,135.69 1532.17,141.49 1538.37,141.77 1533.52,145.63 1535.17,151.61 1530,148.19 1524.83,151.61 1526.48,145.63 1521.63,141.77 1527.83,141.49" fill="#8e8e00"/>
<polygon points="1559,135.69 1561.17,141.49 1567.37,141.77 1562.52,145.63 1564.17,151.61 1559,148.19 1553.83,151.61 1555.48,145.63 1550.63,141.77 1556.83,141.49" fill="#8e8e00"/>
<polygon points="1588.9,135.69 1591.07,141.49 1597.27,141.77 1592.42,145.63 1594.07,151.61 1588.9,148.19 1583.73,151.61 1585.38,145.63 1580.53,141.77 1586.73,141.49" fill="#8e8e00"/>
<polygon points="1610.16,55.62 1612.33,61.43 1618.52,61.7 1613.67,65.57 1615.33,71.54 1610.16,68.12 1604.98,71.54 1606.64,65.57 1601.79,61.7 1607.98,61.43" fill="#8e8e00"/>
<polygon points="1731,49.35 1733.17,55.16 1739.37,55.43 1734.52,59.29 1736.17,65.27 1731,61.85 1725.83,65.27 1727.48,59.29 1722.63,55.43 1728.82,55.16" fill="#8e8e00"/>
<polygon points="1827.83,49.35 1830.01,55.16 1836.2,55.43 1831.35,59.29 1833.01,65.27 1827.83,61.85 1822.66,65.27 1824.32,59.29 1819.46,55.43 1825.66,55.16" fill="#8e8e00"/>
</g>
<g>
<path d="M257.5 1351L268.62 1351M286.62 1351L297.75 1351M315.75 1351L326.87 1351M344.87 1351L356 1351M374 1351L385.12 1351M403.12 1351L414.25 1351M432.25 1351L443.37 1351M461.36 1350.6L472.5 1350.11M490.39 1348.36L501.72 1346.65M519.49 1343.77L530.87 1341.8M548.69 1339.31L559.92 1338.11M575.4 1330.98L591.45 1315.79M602.31 1301.71L622.8 1264.22M630.71 1248.07L652.65 1197.7M661.39 1182.07L680.22 1155.05M693.46 1143.75L706.39 1137.49M723.31 1131.77L734.79 1129.42M752.44 1125.86L763.91 1123.56M781.05 1118.36L793.54 1113.21M809 1104.29L823.85 1092.88M837.74 1081.45L853.35 1067.73M867.58 1056.77L881.76 1047.27M896.91 1037.55L910.68 1029.11M925.59 1019.04L940.25 1008.16M954.21 996.83L969.88 982.91M983.53 971.18L998.81 958.5M1012.36 946.66L1028.23 932.06M1041.88 920.35L1056.95 908.31M1071.35 897.52L1085.74 887.42M1100.88 877.73L1114.45 869.84M1130.58 861.97L1142.99 857.01M1159.93 850.96L1171.89 847.19M1188.91 841.34L1201.17 836.77M1217.41 829.15L1230.93 821.41M1244.84 810.31L1261.8 791.87M1272.97 777.82L1291.95 750.12M1301.14 734.68L1322.07 693.91M1327.46 677L1354.03 493.3M1359.08 476.21L1380.7 429.19M1388.29 412.86L1409.78 367.07M1416.55 350.42L1439.8 283.35M1448.37 267.82L1466.08 245.66M1480.07 235.33L1492.23 230.55M1503.58 218.76L1527.02 152.06M1539 143.56L1550 143.56M1568 143.56L1579.9 143.56M1591.22 134.87L1607.84 72.46M1619.14 63.3L1722.01 58.01M1740 57.55L1818.83 57.55" stroke="#ff6400" stroke-width="2.7" fill="none"/>
<polygon points="248.5,1343.1 256.58,1348.97 253.5,1358.48 243.5,1358.48 240.42,1348.97" fill="#ff6400"/>
<polygon points="277.62,1343.1 285.71,1348.97 282.62,1358.48 272.63,1358.48 269.54,1348.97" fill="#ff6400"/>
<polygon points="306.75,1343.1 314.83,1348.97 311.74,1358.48 301.75,1358.48 298.66,1348.97" fill="#ff6400"/>
<polygon points="335.87,1343.1 343.96,1348.97 340.87,1358.48 330.88,1358.48 327.79,1348.97" fill="#ff6400"/>
<polygon points="365,1343.1 373.08,1348.97 369.99,1358.48 360,1358.48 356.91,1348.97" fill="#ff6400"/>
<polygon points="394.12,1343.1 402.21,1348.97 399.12,1358.48 389.13,1358.48 386.04,1348.97" fill="#ff6400"/>
<polygon points="423.25,1343.1 431.33,1348.97 428.24,1358.48 418.25,1358.48 415.16,1348.97" fill="#ff6400"/>
<polygon points="452.37,1343.1 460.45,1348.97 457.37,1358.48 447.37,1358.48 444.29,1348.97" fill="#ff6400"/>
<polygon points="481.49,1341.81 489.58,1347.68 486.49,1357.18 476.5,1357.18 473.41,1347.68" fill="#ff6400"/>
<polygon points="510.62,1337.41 518.7,1343.28 515.61,1352.79 505.62,1352.79 502.53,1343.28" fill="#ff6400"/>
<polygon points="539.74,1332.36 547.83,1338.24 544.74,1347.74 534.75,1347.74 531.66,1338.24" fill="#ff6400"/>
<polygon points="568.87,1329.26 576.95,1335.13 573.86,1344.64 563.87,1344.64 560.78,1335.13" fill="#ff6400"/>
<polygon points="597.99,1301.71 606.07,1307.58 602.99,1317.09 592.99,1317.09 589.91,1307.58" fill="#ff6400"/>
<polygon points="627.12,1248.42 635.2,1254.29 632.11,1263.8 622.12,1263.8 619.03,1254.29" fill="#ff6400"/>
<polygon points="656.24,1181.55 664.32,1187.42 661.24,1196.92 651.24,1196.92 648.16,1187.42" fill="#ff6400"/>
<polygon points="685.36,1139.77 693.45,1145.64 690.36,1155.15 680.37,1155.15 677.28,1145.64" fill="#ff6400"/>
<polygon points="714.49,1125.67 722.57,1131.54 719.48,1141.05 709.49,1141.05 706.4,1131.54" fill="#ff6400"/>
<polygon points="743.61,1119.72 751.7,1125.59 748.61,1135.1 738.62,1135.1 735.53,1125.59" fill="#ff6400"/>
<polygon points="772.74,1113.9 780.82,1119.77 777.73,1129.28 767.74,1129.28 764.65,1119.77" fill="#ff6400"/>
<polygon points="801.86,1101.87 809.94,1107.74 806.86,1117.25 796.86,1117.25 793.78,1107.74" fill="#ff6400"/>
<polygon points="830.98,1079.49 839.07,1085.37 835.98,1094.87 825.99,1094.87 822.9,1085.37" fill="#ff6400"/>
<polygon points="860.11,1053.88 868.19,1059.76 865.11,1069.26 855.11,1069.26 852.03,1059.76" fill="#ff6400"/>
<polygon points="889.23,1034.35 897.32,1040.23 894.23,1049.73 884.24,1049.73 881.15,1040.23" fill="#ff6400"/>
<polygon points="918.36,1016.5 926.44,1022.38 923.35,1031.88 913.36,1031.88 910.27,1022.38" fill="#ff6400"/>
<polygon points="947.48,994.9 955.57,1000.78 952.48,1010.28 942.49,1010.28 939.4,1000.78" fill="#ff6400"/>
<polygon points="976.61,969.03 984.69,974.91 981.6,984.41 971.61,984.41 968.52,974.91" fill="#ff6400"/>
<polygon points="1005.73,944.85 1013.81,950.72 1010.73,960.22 1000.73,960.22 997.65,950.72" fill="#ff6400"/>
<polygon points="1034.85,918.07 1042.94,923.95 1039.85,933.45 1029.86,933.45 1026.77,923.95" fill="#ff6400"/>
<polygon points="1063.98,894.79 1072.06,900.66 1068.97,910.17 1058.98,910.17 1055.89,900.66" fill="#ff6400"/>
<polygon points="1093.1,874.35 1101.19,880.23 1098.1,889.73 1088.11,889.73 1085.02,880.23" fill="#ff6400"/>
<polygon points="1122.23,857.41 1130.31,863.28 1127.22,872.79 1117.23,872.79 1114.14,863.28" fill="#ff6400"/>
<polygon points="1151.35,845.77 1159.44,851.64 1156.35,861.15 1146.36,861.15 1143.27,851.64" fill="#ff6400"/>
<polygon points="1180.48,836.58 1188.56,842.46 1185.47,851.96 1175.48,851.96 1172.39,842.46" fill="#ff6400"/>
<polygon points="1209.6,825.72 1217.68,831.59 1214.6,841.1 1204.6,841.1 1201.52,831.59" fill="#ff6400"/>
<polygon points="1238.74,809.03 1246.83,814.91 1243.74,824.41 1233.75,824.41 1230.66,814.91" fill="#ff6400"/>
<polygon points="1267.89,777.34 1275.97,783.22 1272.88,792.72 1262.89,792.72 1259.8,783.22" fill="#ff6400"/>
<polygon points="1297.03,734.79 1305.12,740.66 1302.03,750.17 1292.04,750.17 1288.95,740.66" fill="#ff6400"/>
<polygon points="1326.17,678.01 1334.26,683.88 1331.17,693.38 1321.18,693.38 1318.09,683.88" fill="#ff6400"/>
<polygon points="1355.32,476.49 1363.4,482.36 1360.31,491.87 1350.32,491.87 1347.23,482.36" fill="#ff6400"/>
<polygon points="1384.46,413.11 1392.55,418.98 1389.46,428.49 1379.47,428.49 1376.38,418.98" fill="#ff6400"/>
<polygon points="1413.61,351.02 1421.69,356.9 1418.6,366.4 1408.61,366.4 1405.52,356.9" fill="#ff6400"/>
<polygon points="1442.75,266.95 1450.83,272.82 1447.75,282.33 1437.75,282.33 1434.67,272.82" fill="#ff6400"/>
<polygon points="1471.7,230.73 1479.78,236.61 1476.7,246.11 1466.7,246.11 1463.62,236.61" fill="#ff6400"/>
<polygon points="1500.6,219.35 1508.68,225.22 1505.6,234.73 1495.6,234.73 1492.52,225.22" fill="#ff6400"/>
<polygon points="1530,135.66 1538.08,141.54 1535,151.04 1525,151.04 1521.92,141.54" fill="#ff6400"/>
<polygon points="1559,135.66 1567.08,141.54 1564,151.04 1554,151.04 1550.92,141.54" fill="#ff6400"/>
<polygon points="1588.9,135.66 1596.98,141.54 1593.9,151.04 1583.9,151.04 1580.82,141.54" fill="#ff6400"/>
<polygon points="1610.16,55.86 1618.24,61.73 1615.15,71.24 1605.16,71.24 1602.07,61.73" fill="#ff6400"/>
<polygon points="1731,49.65 1739.08,55.52 1735.99,65.03 1726,65.03 1722.91,55.52" fill="#ff6400"/>
<polygon points="1827.83,49.65 1835.92,55.52 1832.83,65.03 1822.84,65.03 1819.75,55.52" fill="#ff6400"/>
</g>
<g>
<path d="M257.5 1351L268.62 1351M286.62 1351L297.75 1351M315.75 1351L326.87 1351M344.87 1351L356 1351M374 1351L385.12 1351M403.12 1351L414.25 1351M432.25 1351L443.37 1351M461.37 1351L472.49 1351M490.49 1350.8L501.62 1350.55M519.57 1349.39L530.79 1348.18M548.61 1345.66L560 1343.66M577.49 1339.52L589.37 1335.96M606.62 1330.84L618.48 1327.35M635.91 1322.9L647.44 1320.41M664.97 1316.33L676.63 1313.43M693.96 1308.6L705.89 1304.92M722.81 1298.84L735.29 1293.7M751.98 1286.95L764.37 1282.02M780.68 1274.46L793.92 1267.38M809.46 1258.32L823.39 1249.47M838.08 1239.11L853.01 1227.45M866.58 1215.66L882.76 1200.03M894.93 1186.81L912.67 1165.09M923.5 1150.73L942.34 1123.69M952.54 1108.86L971.54 1080.93M981.83 1066.16L1000.51 1039.95M1011.33 1025.57L1029.26 1003M1040.79 989.18L1058.05 969.48M1070.29 956.29L1086.8 939.47M1100.17 927.49L1115.16 915.69M1130.08 905.73L1143.5 898.2M1159.48 889.93L1172.35 883.8M1188.7 876.27L1201.37 870.64M1217.01 861.89L1231.33 852.04M1244.34 839.9L1262.29 817.32M1272.53 802.56L1292.39 769.61M1300.83 753.74L1322.38 707.45M1327.42 690.38L1354.07 499.77M1358.94 482.62L1380.84 432.81M1388.24 416.4L1409.83 369.68M1416.51 352.99L1439.84 284.66M1448.34 269.09L1466.11 246.66M1480.06 236.27L1492.24 231.42M1503.58 219.6L1527.02 152.7M1539 144.21L1550 144.21M1568 144.21L1579.9 144.21M1591.2 135.51L1607.85 72.59M1619.14 63.42L1722.01 58.02M1740 57.55L1818.83 57.55" stroke="#4196d0" stroke-width="2.7" fill="none"/>
<circle cx="248.5" cy="1351" r="7.2" fill="#4196d0"/><circle cx="246" cy="1348.6" r="3.7" fill="url(#hl)"/>
<circle cx="277.62" cy="1351" r="7.2" fill="#4196d0"/><circle cx="275.12" cy="1348.6" r="3.7" fill="url(#hl)"/>
<circle cx="306.75" cy="1351" r="7.2" fill="#4196d0"/><circle cx="304.25" cy="1348.6" r="3.7" fill="url(#hl)"/>
<circle cx="335.87" cy="1351" r="7.2" fill="#4196d0"/><circle cx="333.37" cy="1348.6" r="3.7" fill="url(#hl)"/>
<circle cx="365" cy="1351" r="7.2" fill="#4196d0"/><circle cx="362.5" cy="1348.6" r="3.7" fill="url(#hl)"/>
<circle cx="394.12" cy="1351" r="7.2" fill="#4196d0"/><circle cx="391.62" cy="1348.6" r="3.7" fill="url(#hl)"/>
<circle cx="423.25" cy="1351" r="7.2" fill="#4196d0"/><circle cx="420.75" cy="1348.6" r="3.7" fill="url(#hl)"/>
<circle cx="452.37" cy="1351" r="7.2" fill="#4196d0"/><circle cx="449.87" cy="1348.6" r="3.7" fill="url(#hl)"/>
<circle cx="481.49" cy="1351" r="7.2" fill="#4196d0"/><circle cx="478.99" cy="1348.6" r="3.7" fill="url(#hl)"/>
<circle cx="510.62" cy="1350.35" r="7.2" fill="#4196d0"/><circle cx="508.12" cy="1347.95" r="3.7" fill="url(#hl)"/>
<circle cx="539.74" cy="1347.22" r="7.2" fill="#4196d0"/><circle cx="537.24" cy="1344.82" r="3.7" fill="url(#hl)"/>
<circle cx="568.87" cy="1342.11" r="7.2" fill="#4196d0"/><circle cx="566.37" cy="1339.71" r="3.7" fill="url(#hl)"/>
<circle cx="597.99" cy="1333.38" r="7.2" fill="#4196d0"/><circle cx="595.49" cy="1330.98" r="3.7" fill="url(#hl)"/>
<circle cx="627.12" cy="1324.81" r="7.2" fill="#4196d0"/><circle cx="624.62" cy="1322.41" r="3.7" fill="url(#hl)"/>
<circle cx="656.24" cy="1318.5" r="7.2" fill="#4196d0"/><circle cx="653.74" cy="1316.1" r="3.7" fill="url(#hl)"/>
<circle cx="685.36" cy="1311.26" r="7.2" fill="#4196d0"/><circle cx="682.86" cy="1308.86" r="3.7" fill="url(#hl)"/>
<circle cx="714.49" cy="1302.27" r="7.2" fill="#4196d0"/><circle cx="711.99" cy="1299.87" r="3.7" fill="url(#hl)"/>
<circle cx="743.61" cy="1290.27" r="7.2" fill="#4196d0"/><circle cx="741.11" cy="1287.87" r="3.7" fill="url(#hl)"/>
<circle cx="772.74" cy="1278.7" r="7.2" fill="#4196d0"/><circle cx="770.24" cy="1276.3" r="3.7" fill="url(#hl)"/>
<circle cx="801.86" cy="1263.14" r="7.2" fill="#4196d0"/><circle cx="799.36" cy="1260.74" r="3.7" fill="url(#hl)"/>
<circle cx="830.98" cy="1244.65" r="7.2" fill="#4196d0"/><circle cx="828.48" cy="1242.25" r="3.7" fill="url(#hl)"/>
<circle cx="860.11" cy="1221.91" r="7.2" fill="#4196d0"/><circle cx="857.61" cy="1219.51" r="3.7" fill="url(#hl)"/>
<circle cx="889.23" cy="1193.78" r="7.2" fill="#4196d0"/><circle cx="886.73" cy="1191.38" r="3.7" fill="url(#hl)"/>
<circle cx="918.36" cy="1158.11" r="7.2" fill="#4196d0"/><circle cx="915.86" cy="1155.71" r="3.7" fill="url(#hl)"/>
<circle cx="947.48" cy="1116.3" r="7.2" fill="#4196d0"/><circle cx="944.98" cy="1113.9" r="3.7" fill="url(#hl)"/>
<circle cx="976.61" cy="1073.49" r="7.2" fill="#4196d0"/><circle cx="974.11" cy="1071.09" r="3.7" fill="url(#hl)"/>
<circle cx="1005.73" cy="1032.62" r="7.2" fill="#4196d0"/><circle cx="1003.23" cy="1030.22" r="3.7" fill="url(#hl)"/>
<circle cx="1034.85" cy="995.95" r="7.2" fill="#4196d0"/><circle cx="1032.35" cy="993.55" r="3.7" fill="url(#hl)"/>
<circle cx="1063.98" cy="962.71" r="7.2" fill="#4196d0"/><circle cx="1061.48" cy="960.31" r="3.7" fill="url(#hl)"/>
<circle cx="1093.1" cy="933.05" r="7.2" fill="#4196d0"/><circle cx="1090.6" cy="930.65" r="3.7" fill="url(#hl)"/>
<circle cx="1122.23" cy="910.13" r="7.2" fill="#4196d0"/><circle cx="1119.73" cy="907.73" r="3.7" fill="url(#hl)"/>
<circle cx="1151.35" cy="893.8" r="7.2" fill="#4196d0"/><circle cx="1148.85" cy="891.4" r="3.7" fill="url(#hl)"/>
<circle cx="1180.48" cy="879.93" r="7.2" fill="#4196d0"/><circle cx="1177.98" cy="877.53" r="3.7" fill="url(#hl)"/>
<circle cx="1209.6" cy="866.99" r="7.2" fill="#4196d0"/><circle cx="1207.1" cy="864.59" r="3.7" fill="url(#hl)"/>
<circle cx="1238.74" cy="846.94" r="7.2" fill="#4196d0"/><circle cx="1236.24" cy="844.54" r="3.7" fill="url(#hl)"/>
<circle cx="1267.89" cy="810.27" r="7.2" fill="#4196d0"/><circle cx="1265.39" cy="807.87" r="3.7" fill="url(#hl)"/>
<circle cx="1297.03" cy="761.9" r="7.2" fill="#4196d0"/><circle cx="1294.53" cy="759.5" r="3.7" fill="url(#hl)"/>
<circle cx="1326.17" cy="699.3" r="7.2" fill="#4196d0"/><circle cx="1323.67" cy="696.9" r="3.7" fill="url(#hl)"/>
<circle cx="1355.32" cy="490.86" r="7.2" fill="#4196d0"/><circle cx="1352.82" cy="488.46" r="3.7" fill="url(#hl)"/>
<circle cx="1384.46" cy="424.57" r="7.2" fill="#4196d0"/><circle cx="1381.96" cy="422.17" r="3.7" fill="url(#hl)"/>
<circle cx="1413.61" cy="361.51" r="7.2" fill="#4196d0"/><circle cx="1411.11" cy="359.11" r="3.7" fill="url(#hl)"/>
<circle cx="1442.75" cy="276.14" r="7.2" fill="#4196d0"/><circle cx="1440.25" cy="273.74" r="3.7" fill="url(#hl)"/>
<circle cx="1471.7" cy="239.6" r="7.2" fill="#4196d0"/><circle cx="1469.2" cy="237.2" r="3.7" fill="url(#hl)"/>
<circle cx="1500.6" cy="228.09" r="7.2" fill="#4196d0"/><circle cx="1498.1" cy="225.69" r="3.7" fill="url(#hl)"/>
<circle cx="1530" cy="144.21" r="7.2" fill="#4196d0"/><circle cx="1527.5" cy="141.81" r="3.7" fill="url(#hl)"/>
<circle cx="1559" cy="144.21" r="7.2" fill="#4196d0"/><circle cx="1556.5" cy="141.81" r="3.7" fill="url(#hl)"/>
<circle cx="1588.9" cy="144.21" r="7.2" fill="#4196d0"/><circle cx="1586.4" cy="141.81" r="3.7" fill="url(#hl)"/>
<circle cx="1610.16" cy="63.89" r="7.2" fill="#4196d0"/><circle cx="1607.66" cy="61.49" r="3.7" fill="url(#hl)"/>
<circle cx="1731" cy="57.55" r="7.2" fill="#4196d0"/><circle cx="1728.5" cy="55.15" r="3.7" fill="url(#hl)"/>
<circle cx="1827.83" cy="57.55" r="7.2" fill="#4196d0"/><circle cx="1825.33" cy="55.15" r="3.7" fill="url(#hl)"/>
</g>
<g>
<path d="M257.5 1351L268.62 1351M286.62 1351L297.75 1351M315.75 1351L326.87 1351M344.87 1351L356 1351M374 1351L385.12 1351M403.12 1351L414.25 1351M432.25 1351L443.37 1351M461.37 1351L472.49 1351M490.49 1350.6L501.63 1350.11M519.52 1348.38L530.84 1346.7M548.52 1343.37L560.09 1340.72M577.51 1336.22L589.34 1332.8M606.64 1327.81L618.47 1324.39M635.87 1319.81L647.49 1317.03M664.96 1312.73L676.64 1309.76M693.92 1304.76L705.93 1300.85M722.74 1294.48L735.36 1289.01M751.91 1281.94L764.44 1276.68M780.53 1268.69L794.07 1260.86M809.11 1251.02L823.73 1240.28M837.52 1228.76L853.57 1213.55M866.13 1200.67L883.21 1181.71M894.61 1167.81L912.98 1143.18M923.17 1128.36L942.67 1097.55M952.37 1082.39L971.72 1052.43M981.84 1037.55L1000.5 1011.42M1011.48 997.17L1029.1 975.97M1040.99 962.46L1057.84 944.39M1070.5 931.61L1086.58 916.33M1100.36 904.81L1114.97 894.11M1130.26 884.73L1143.32 878.13M1159.69 870.68L1172.14 865.6M1188.81 858.8L1201.27 853.71M1217.21 845.51L1231.13 836.74M1244.58 825.09L1262.05 804.61M1272.74 790.18L1292.17 759.87M1300.98 744.21L1322.23 700.69M1327.44 683.69L1354.05 496.53M1359.01 479.41L1380.77 431M1388.26 414.63L1409.81 368.38M1416.53 351.71L1439.82 284.01M1448.35 268.45L1466.1 246.16M1480.07 235.8L1492.23 230.99M1503.58 219.18L1527.02 152.38M1539 143.89L1550 143.89M1568 143.89L1579.9 143.89M1591.21 135.19L1607.85 72.52M1619.14 63.36L1722.01 58.02M1740 57.55L1818.83 57.55" stroke="#32b414" stroke-width="2.8" fill="none"/>
<path d="M241.5 1351H255.5M248.5 1344V1358" stroke="#32b414" stroke-width="2.5" fill="none"/>
<path d="M270.62 1351H284.62M277.62 1344V1358" stroke="#32b414" stroke-width="2.5" fill="none"/>
<path d="M299.75 1351H313.75M306.75 1344V1358" stroke="#32b414" stroke-width="2.5" fill="none"/>
<path d="M328.87 1351H342.87M335.87 1344V1358" stroke="#32b414" stroke-width="2.5" fill="none"/>
<path d="M358 1351H372M365 1344V1358" stroke="#32b414" stroke-width="2.5" fill="none"/>
<path d="M387.12 1351H401.12M394.12 1344V1358" stroke="#32b414" stroke-width="2.5" fill="none"/>
<path d="M416.25 1351H430.25M423.25 1344V1358" stroke="#32b414" stroke-width="2.5" fill="none"/>
<path d="M445.37 1351H459.37M452.37 1344V1358" stroke="#32b414" stroke-width="2.5" fill="none"/>
<path d="M474.49 1351H488.49M481.49 1344V1358" stroke="#32b414" stroke-width="2.5" fill="none"/>
<path d="M503.62 1349.71H517.62M510.62 1342.71V1356.71" stroke="#32b414" stroke-width="2.5" fill="none"/>
<path d="M532.74 1345.37H546.74M539.74 1338.37V1352.37" stroke="#32b414" stroke-width="2.5" fill="none"/>
<path d="M561.87 1338.71H575.87M568.87 1331.71V1345.71" stroke="#32b414" stroke-width="2.5" fill="none"/>
<path d="M590.99 1330.3H604.99M597.99 1323.3V1337.3" stroke="#32b414" stroke-width="2.5" fill="none"/>
<path d="M620.12 1321.9H634.12M627.12 1314.9V1328.9" stroke="#32b414" stroke-width="2.5" fill="none"/>
<path d="M649.24 1314.95H663.24M656.24 1307.95V1321.95" stroke="#32b414" stroke-width="2.5" fill="none"/>
<path d="M678.36 1307.54H692.36M685.36 1300.54V1314.54" stroke="#32b414" stroke-width="2.5" fill="none"/>
<path d="M707.49 1298.07H721.49M714.49 1291.07V1305.07" stroke="#32b414" stroke-width="2.5" fill="none"/>
<path d="M736.61 1285.42H750.61M743.61 1278.42V1292.42" stroke="#32b414" stroke-width="2.5" fill="none"/>
<path d="M765.74 1273.2H779.74M772.74 1266.2V1280.2" stroke="#32b414" stroke-width="2.5" fill="none"/>
<path d="M794.86 1256.35H808.86M801.86 1249.35V1263.35" stroke="#32b414" stroke-width="2.5" fill="none"/>
<path d="M823.98 1234.95H837.98M830.98 1227.95V1241.95" stroke="#32b414" stroke-width="2.5" fill="none"/>
<path d="M853.11 1207.36H867.11M860.11 1200.36V1214.36" stroke="#32b414" stroke-width="2.5" fill="none"/>
<path d="M882.23 1175.03H896.23M889.23 1168.03V1182.03" stroke="#32b414" stroke-width="2.5" fill="none"/>
<path d="M911.36 1135.96H925.36M918.36 1128.96V1142.96" stroke="#32b414" stroke-width="2.5" fill="none"/>
<path d="M940.48 1089.95H954.48M947.48 1082.95V1096.95" stroke="#32b414" stroke-width="2.5" fill="none"/>
<path d="M969.61 1044.87H983.61M976.61 1037.87V1051.87" stroke="#32b414" stroke-width="2.5" fill="none"/>
<path d="M998.73 1004.1H1012.73M1005.73 997.1V1011.1" stroke="#32b414" stroke-width="2.5" fill="none"/>
<path d="M1027.85 969.04H1041.85M1034.85 962.04V976.04" stroke="#32b414" stroke-width="2.5" fill="none"/>
<path d="M1056.98 937.81H1070.98M1063.98 930.81V944.81" stroke="#32b414" stroke-width="2.5" fill="none"/>
<path d="M1086.1 910.13H1100.1M1093.1 903.13V917.13" stroke="#32b414" stroke-width="2.5" fill="none"/>
<path d="M1115.23 888.79H1129.23M1122.23 881.79V895.79" stroke="#32b414" stroke-width="2.5" fill="none"/>
<path d="M1144.35 874.07H1158.35M1151.35 867.07V881.07" stroke="#32b414" stroke-width="2.5" fill="none"/>
<path d="M1173.48 862.21H1187.48M1180.48 855.21V869.21" stroke="#32b414" stroke-width="2.5" fill="none"/>
<path d="M1202.6 850.31H1216.6M1209.6 843.31V857.31" stroke="#32b414" stroke-width="2.5" fill="none"/>
<path d="M1231.74 831.94H1245.74M1238.74 824.94V838.94" stroke="#32b414" stroke-width="2.5" fill="none"/>
<path d="M1260.89 797.76H1274.89M1267.89 790.76V804.76" stroke="#32b414" stroke-width="2.5" fill="none"/>
<path d="M1290.03 752.29H1304.03M1297.03 745.29V759.29" stroke="#32b414" stroke-width="2.5" fill="none"/>
<path d="M1319.17 692.6H1333.17M1326.17 685.6V699.6" stroke="#32b414" stroke-width="2.5" fill="none"/>
<path d="M1348.32 487.62H1362.32M1355.32 480.62V494.62" stroke="#32b414" stroke-width="2.5" fill="none"/>
<path d="M1377.46 422.79H1391.46M1384.46 415.79V429.79" stroke="#32b414" stroke-width="2.5" fill="none"/>
<path d="M1406.61 360.22H1420.61M1413.61 353.22V367.22" stroke="#32b414" stroke-width="2.5" fill="none"/>
<path d="M1435.75 275.5H1449.75M1442.75 268.5V282.5" stroke="#32b414" stroke-width="2.5" fill="none"/>
<path d="M1464.7 239.12H1478.7M1471.7 232.12V246.12" stroke="#32b414" stroke-width="2.5" fill="none"/>
<path d="M1493.6 227.67H1507.6M1500.6 220.67V234.67" stroke="#32b414" stroke-width="2.5" fill="none"/>
<path d="M1523 143.89H1537M1530 136.89V150.89" stroke="#32b414" stroke-width="2.5" fill="none"/>
<path d="M1552 143.89H1566M1559 136.89V150.89" stroke="#32b414" stroke-width="2.5" fill="none"/>
<path d="M1581.9 143.89H1595.9M1588.9 136.89V150.89" stroke="#32b414" stroke-width="2.5" fill="none"/>
<path d="M1603.16 63.82H1617.16M1610.16 56.82V70.82" stroke="#32b414" stroke-width="2.5" fill="none"/>
<path d="M1724 57.55H1738M1731 50.55V64.55" stroke="#32b414" stroke-width="2.5" fill="none"/>
<path d="M1820.83 57.55H1834.83M1827.83 50.55V64.55" stroke="#32b414" stroke-width="2.5" fill="none"/>
</g>
<g>
<path d="M257.5 1351L268.62 1351M286.62 1351L297.75 1351M315.75 1351L326.87 1351M344.87 1351L356 1351M374 1351L385.12 1351M403.12 1351L414.25 1351M432.25 1351L443.37 1351M461.35 1350.4L472.51 1349.66M490.34 1347.38L501.78 1345.21M519.28 1341.09L531.08 1337.76M548.41 1332.91L560.19 1329.64M577.53 1324.78L589.33 1321.44M606.7 1316.71L618.41 1313.66M635.83 1309.12L647.53 1306.08M664.76 1300.91L676.85 1296.77M693.55 1290.13L706.3 1284.31M722.72 1276.93L735.38 1271.34M751.25 1262.94L765.1 1254.32M779.64 1243.79L794.95 1231.01M807.87 1218.55L824.97 1199.51M836.59 1185.77L854.5 1163.31M865.2 1148.85L884.14 1121.24M893.75 1106.03L913.84 1071.38M923.07 1055.93L942.77 1023.92M952.72 1008.94L971.37 982.89M982.52 968.79L999.82 948.93M1012.08 935.76L1028.5 919.28M1041.6 906.95L1057.23 893.16M1071.43 882.15L1085.66 872.5M1101.31 863.75L1114.02 858.04M1130.75 851.46L1142.83 847.37M1159.78 841.34L1172.04 836.77M1188.28 829.15L1201.79 821.41M1215.69 810.31L1232.65 791.87M1243.83 777.82L1262.8 750.12M1272 734.68L1292.92 693.91M1298.32 677L1324.89 493.3M1329.94 476.21L1351.56 429.19M1359.14 412.86L1380.64 367.07M1387.41 350.42L1410.66 283.35M1419.25 267.84L1437.11 245.64M1451.13 235.34L1463.32 230.54M1474.64 218.74L1497.66 152.07M1509.6 143.56L1521 143.56M1539 143.56L1550 143.56M1562.16 135.14L1585.74 72.19M1597.54 61.24L1601.52 60.07M1619.16 57.55L1722 57.55M1740 57.55L1818.83 57.55" stroke="#777777" stroke-width="2.3" fill="none"/>
<path d="M241.1 1343.6L255.9 1358.4M241.1 1358.4L255.9 1343.6" stroke="#777777" stroke-width="2.2" fill="none"/>
<path d="M270.22 1343.6L285.02 1358.4M270.22 1358.4L285.02 1343.6" stroke="#777777" stroke-width="2.2" fill="none"/>
<path d="M299.35 1343.6L314.15 1358.4M299.35 1358.4L314.15 1343.6" stroke="#777777" stroke-width="2.2" fill="none"/>
<path d="M328.47 1343.6L343.27 1358.4M328.47 1358.4L343.27 1343.6" stroke="#777777" stroke-width="2.2" fill="none"/>
<path d="M357.6 1343.6L372.4 1358.4M357.6 1358.4L372.4 1343.6" stroke="#777777" stroke-width="2.2" fill="none"/>
<path d="M386.72 1343.6L401.52 1358.4M386.72 1358.4L401.52 1343.6" stroke="#777777" stroke-width="2.2" fill="none"/>
<path d="M415.85 1343.6L430.65 1358.4M415.85 1358.4L430.65 1343.6" stroke="#777777" stroke-width="2.2" fill="none"/>
<path d="M444.97 1343.6L459.77 1358.4M444.97 1358.4L459.77 1343.6" stroke="#777777" stroke-width="2.2" fill="none"/>
<path d="M474.09 1341.66L488.89 1356.46M474.09 1356.46L488.89 1341.66" stroke="#777777" stroke-width="2.2" fill="none"/>
<path d="M503.22 1336.13L518.02 1350.93M503.22 1350.93L518.02 1336.13" stroke="#777777" stroke-width="2.2" fill="none"/>
<path d="M532.34 1327.92L547.14 1342.72M532.34 1342.72L547.14 1327.92" stroke="#777777" stroke-width="2.2" fill="none"/>
<path d="M561.47 1319.83L576.27 1334.63M561.47 1334.63L576.27 1319.83" stroke="#777777" stroke-width="2.2" fill="none"/>
<path d="M590.59 1311.59L605.39 1326.39M590.59 1326.39L605.39 1311.59" stroke="#777777" stroke-width="2.2" fill="none"/>
<path d="M619.72 1303.99L634.52 1318.79M619.72 1318.79L634.52 1303.99" stroke="#777777" stroke-width="2.2" fill="none"/>
<path d="M648.84 1296.42L663.64 1311.22M648.84 1311.22L663.64 1296.42" stroke="#777777" stroke-width="2.2" fill="none"/>
<path d="M677.96 1286.46L692.76 1301.26M677.96 1301.26L692.76 1286.46" stroke="#777777" stroke-width="2.2" fill="none"/>
<path d="M707.09 1273.17L721.89 1287.97M707.09 1287.97L721.89 1273.17" stroke="#777777" stroke-width="2.2" fill="none"/>
<path d="M736.21 1260.3L751.01 1275.1M736.21 1275.1L751.01 1260.3" stroke="#777777" stroke-width="2.2" fill="none"/>
<path d="M765.34 1242.16L780.14 1256.96M765.34 1256.96L780.14 1242.16" stroke="#777777" stroke-width="2.2" fill="none"/>
<path d="M794.46 1217.84L809.26 1232.64M794.46 1232.64L809.26 1217.84" stroke="#777777" stroke-width="2.2" fill="none"/>
<path d="M823.58 1185.41L838.38 1200.21M823.58 1200.21L838.38 1185.41" stroke="#777777" stroke-width="2.2" fill="none"/>
<path d="M852.71 1148.87L867.51 1163.67M852.71 1163.67L867.51 1148.87" stroke="#777777" stroke-width="2.2" fill="none"/>
<path d="M881.83 1106.41L896.63 1121.21M881.83 1121.21L896.63 1106.41" stroke="#777777" stroke-width="2.2" fill="none"/>
<path d="M910.96 1056.2L925.76 1071M910.96 1071L925.76 1056.2" stroke="#777777" stroke-width="2.2" fill="none"/>
<path d="M940.08 1008.86L954.88 1023.66M940.08 1023.66L954.88 1008.86" stroke="#777777" stroke-width="2.2" fill="none"/>
<path d="M969.21 968.18L984.01 982.98M969.21 982.98L984.01 968.18" stroke="#777777" stroke-width="2.2" fill="none"/>
<path d="M998.33 934.74L1013.13 949.54M998.33 949.54L1013.13 934.74" stroke="#777777" stroke-width="2.2" fill="none"/>
<path d="M1027.45 905.51L1042.25 920.31M1027.45 920.31L1042.25 905.51" stroke="#777777" stroke-width="2.2" fill="none"/>
<path d="M1056.58 879.8L1071.38 894.6M1056.58 894.6L1071.38 879.8" stroke="#777777" stroke-width="2.2" fill="none"/>
<path d="M1085.7 860.04L1100.5 874.84M1085.7 874.84L1100.5 860.04" stroke="#777777" stroke-width="2.2" fill="none"/>
<path d="M1114.83 846.95L1129.63 861.75M1114.83 861.75L1129.63 846.95" stroke="#777777" stroke-width="2.2" fill="none"/>
<path d="M1143.95 837.08L1158.75 851.88M1143.95 851.88L1158.75 837.08" stroke="#777777" stroke-width="2.2" fill="none"/>
<path d="M1173.08 826.22L1187.88 841.02M1173.08 841.02L1187.88 826.22" stroke="#777777" stroke-width="2.2" fill="none"/>
<path d="M1202.2 809.53L1217 824.33M1202.2 824.33L1217 809.53" stroke="#777777" stroke-width="2.2" fill="none"/>
<path d="M1231.34 777.84L1246.14 792.64M1231.34 792.64L1246.14 777.84" stroke="#777777" stroke-width="2.2" fill="none"/>
<path d="M1260.49 735.29L1275.29 750.09M1260.49 750.09L1275.29 735.29" stroke="#777777" stroke-width="2.2" fill="none"/>
<path d="M1289.63 678.51L1304.43 693.31M1289.63 693.31L1304.43 678.51" stroke="#777777" stroke-width="2.2" fill="none"/>
<path d="M1318.77 476.99L1333.58 491.79M1318.77 491.79L1333.58 476.99" stroke="#777777" stroke-width="2.2" fill="none"/>
<path d="M1347.92 413.61L1362.72 428.41M1347.92 428.41L1362.72 413.61" stroke="#777777" stroke-width="2.2" fill="none"/>
<path d="M1377.06 351.52L1391.86 366.32M1377.06 366.32L1391.86 351.52" stroke="#777777" stroke-width="2.2" fill="none"/>
<path d="M1406.21 267.45L1421.01 282.25M1406.21 282.25L1421.01 267.45" stroke="#777777" stroke-width="2.2" fill="none"/>
<path d="M1435.35 231.23L1450.15 246.03M1435.35 246.03L1450.15 231.23" stroke="#777777" stroke-width="2.2" fill="none"/>
<path d="M1464.3 219.85L1479.1 234.65M1464.3 234.65L1479.1 219.85" stroke="#777777" stroke-width="2.2" fill="none"/>
<path d="M1493.2 136.16L1508 150.96M1493.2 150.96L1508 136.16" stroke="#777777" stroke-width="2.2" fill="none"/>
<path d="M1522.6 136.16L1537.4 150.96M1522.6 150.96L1537.4 136.16" stroke="#777777" stroke-width="2.2" fill="none"/>
<path d="M1551.6 136.16L1566.4 150.96M1551.6 150.96L1566.4 136.16" stroke="#777777" stroke-width="2.2" fill="none"/>
<path d="M1581.5 56.36L1596.3 71.16M1581.5 71.16L1596.3 56.36" stroke="#777777" stroke-width="2.2" fill="none"/>
<path d="M1602.76 50.15L1617.56 64.95M1602.76 64.95L1617.56 50.15" stroke="#777777" stroke-width="2.2" fill="none"/>
<path d="M1723.6 50.15L1738.4 64.95M1723.6 64.95L1738.4 50.15" stroke="#777777" stroke-width="2.2" fill="none"/>
<path d="M1820.43 50.15L1835.23 64.95M1820.43 64.95L1835.23 50.15" stroke="#777777" stroke-width="2.2" fill="none"/>
</g>
<g>
<path d="M257.5 1351L268.62 1351M286.62 1351L297.75 1351M315.75 1351L326.87 1351M344.87 1351L356 1351M374 1351L385.12 1351M403.12 1351L414.25 1351M432.25 1351L443.37 1351M461.37 1351L472.49 1351M490.49 1350.8L501.62 1350.55M519.54 1349.19L530.82 1347.73M548.55 1344.73L560.06 1342.33M577.38 1337.56L589.48 1333.4M606.43 1327.33L618.68 1322.77M635.74 1317.05L647.62 1313.49M664.75 1307.97L676.86 1303.78M693.63 1297.28L706.23 1291.84M722.41 1283.99L735.69 1276.83M751.6 1268.4L764.75 1261.57M780.19 1252.37L794.41 1242.74M809.11 1232.36L823.73 1221.62M837.76 1210.36L853.34 1196.73M866.27 1184.25L883.07 1166.39M894.68 1152.66L912.91 1128.67M923.39 1114.05L942.45 1085.77M952.58 1070.89L971.51 1043.36M982.05 1028.78L1000.29 1004.73M1011.68 990.81L1028.9 971.27M1041.19 958.12L1057.65 941.49M1070.67 929.07L1086.41 914.89M1100.43 903.64L1114.9 893.3M1130.31 884.12L1143.26 877.8M1159.71 870.51L1172.12 865.55M1188.81 858.8L1201.27 853.71M1217.21 845.51L1231.13 836.74M1244.58 825.09L1262.05 804.61M1272.74 790.18L1292.17 759.87M1300.98 744.21L1322.23 700.69M1327.44 683.69L1354.05 496.53M1359.01 479.41L1380.77 431M1388.26 414.63L1409.81 368.38M1416.53 351.71L1439.82 284.01M1448.35 268.45L1466.1 246.16M1480.07 235.8L1492.23 230.99M1503.58 219.18L1527.02 152.38M1539 143.89L1550 143.89M1568 143.89L1579.9 143.89M1591.21 135.19L1607.85 72.52M1619.14 63.36L1722.01 58.02M1740 57.55L1818.83 57.55" stroke="#f34343" stroke-width="2.5" fill="none"/>
<path d="M248.5 1343.1V1358.9M240.6 1351H256.4M241.2 1343.7L255.8 1358.3M241.2 1358.3L255.8 1343.7" stroke="#f34343" stroke-width="2.3" fill="none"/>
<path d="M277.62 1343.1V1358.9M269.72 1351H285.52M270.32 1343.7L284.92 1358.3M270.32 1358.3L284.92 1343.7" stroke="#f34343" stroke-width="2.3" fill="none"/>
<path d="M306.75 1343.1V1358.9M298.85 1351H314.65M299.45 1343.7L314.05 1358.3M299.45 1358.3L314.05 1343.7" stroke="#f34343" stroke-width="2.3" fill="none"/>
<path d="M335.87 1343.1V1358.9M327.97 1351H343.77M328.57 1343.7L343.17 1358.3M328.57 1358.3L343.17 1343.7" stroke="#f34343" stroke-width="2.3" fill="none"/>
<path d="M365 1343.1V1358.9M357.1 1351H372.9M357.7 1343.7L372.3 1358.3M357.7 1358.3L372.3 1343.7" stroke="#f34343" stroke-width="2.3" fill="none"/>
<path d="M394.12 1343.1V1358.9M386.22 1351H402.02M386.82 1343.7L401.42 1358.3M386.82 1358.3L401.42 1343.7" stroke="#f34343" stroke-width="2.3" fill="none"/>
<path d="M423.25 1343.1V1358.9M415.35 1351H431.15M415.95 1343.7L430.55 1358.3M415.95 1358.3L430.55 1343.7" stroke="#f34343" stroke-width="2.3" fill="none"/>
<path d="M452.37 1343.1V1358.9M444.47 1351H460.27M445.07 1343.7L459.67 1358.3M445.07 1358.3L459.67 1343.7" stroke="#f34343" stroke-width="2.3" fill="none"/>
<path d="M481.49 1343.1V1358.9M473.59 1351H489.39M474.19 1343.7L488.79 1358.3M474.19 1358.3L488.79 1343.7" stroke="#f34343" stroke-width="2.3" fill="none"/>
<path d="M510.62 1342.45V1358.25M502.72 1350.35H518.52M503.32 1343.05L517.92 1357.65M503.32 1357.65L517.92 1343.05" stroke="#f34343" stroke-width="2.3" fill="none"/>
<path d="M539.74 1338.67V1354.47M531.84 1346.57H547.64M532.44 1339.27L547.04 1353.87M532.44 1353.87L547.04 1339.27" stroke="#f34343" stroke-width="2.3" fill="none"/>
<path d="M568.87 1332.59V1348.39M560.97 1340.49H576.77M561.57 1333.19L576.17 1347.79M561.57 1347.79L576.17 1333.19" stroke="#f34343" stroke-width="2.3" fill="none"/>
<path d="M597.99 1322.57V1338.37M590.09 1330.47H605.89M590.69 1323.17L605.29 1337.77M590.69 1337.77L605.29 1323.17" stroke="#f34343" stroke-width="2.3" fill="none"/>
<path d="M627.12 1311.73V1327.53M619.22 1319.63H635.02M619.82 1312.33L634.42 1326.93M619.82 1326.93L634.42 1312.33" stroke="#f34343" stroke-width="2.3" fill="none"/>
<path d="M656.24 1303V1318.8M648.34 1310.9H664.14M648.94 1303.6L663.54 1318.2M648.94 1318.2L663.54 1303.6" stroke="#f34343" stroke-width="2.3" fill="none"/>
<path d="M685.36 1292.95V1308.75M677.46 1300.85H693.26M678.06 1293.55L692.66 1308.15M678.06 1308.15L692.66 1293.55" stroke="#f34343" stroke-width="2.3" fill="none"/>
<path d="M714.49 1280.37V1296.17M706.59 1288.27H722.39M707.19 1280.97L721.79 1295.57M707.19 1295.57L721.79 1280.97" stroke="#f34343" stroke-width="2.3" fill="none"/>
<path d="M743.61 1264.65V1280.45M735.71 1272.55H751.51M736.31 1265.25L750.91 1279.85M736.31 1279.85L750.91 1265.25" stroke="#f34343" stroke-width="2.3" fill="none"/>
<path d="M772.74 1249.52V1265.32M764.84 1257.42H780.64M765.44 1250.12L780.04 1264.72M765.44 1264.72L780.04 1250.12" stroke="#f34343" stroke-width="2.3" fill="none"/>
<path d="M801.86 1229.79V1245.59M793.96 1237.69H809.76M794.56 1230.39L809.16 1244.99M794.56 1244.99L809.16 1230.39" stroke="#f34343" stroke-width="2.3" fill="none"/>
<path d="M830.98 1208.39V1224.19M823.08 1216.29H838.88M823.68 1208.99L838.28 1223.59M823.68 1223.59L838.28 1208.99" stroke="#f34343" stroke-width="2.3" fill="none"/>
<path d="M860.11 1182.91V1198.71M852.21 1190.81H868.01M852.81 1183.51L867.41 1198.11M852.81 1198.11L867.41 1183.51" stroke="#f34343" stroke-width="2.3" fill="none"/>
<path d="M889.23 1151.93V1167.73M881.33 1159.83H897.13M881.93 1152.53L896.53 1167.13M881.93 1167.13L896.53 1152.53" stroke="#f34343" stroke-width="2.3" fill="none"/>
<path d="M918.36 1113.61V1129.41M910.46 1121.51H926.26M911.06 1114.21L925.66 1128.81M911.06 1128.81L925.66 1114.21" stroke="#f34343" stroke-width="2.3" fill="none"/>
<path d="M947.48 1070.41V1086.21M939.58 1078.31H955.38M940.18 1071.01L954.78 1085.61M940.18 1085.61L954.78 1071.01" stroke="#f34343" stroke-width="2.3" fill="none"/>
<path d="M976.61 1028.05V1043.85M968.71 1035.95H984.51M969.31 1028.65L983.91 1043.25M969.31 1043.25L983.91 1028.65" stroke="#f34343" stroke-width="2.3" fill="none"/>
<path d="M1005.73 989.66V1005.46M997.83 997.56H1013.63M998.43 990.26L1013.03 1004.86M998.43 1004.86L1013.03 990.26" stroke="#f34343" stroke-width="2.3" fill="none"/>
<path d="M1034.85 956.62V972.42M1026.95 964.52H1042.75M1027.55 957.22L1042.15 971.82M1027.55 971.82L1042.15 957.22" stroke="#f34343" stroke-width="2.3" fill="none"/>
<path d="M1063.98 927.19V942.99M1056.08 935.09H1071.88M1056.68 927.79L1071.28 942.39M1056.68 942.39L1071.28 927.79" stroke="#f34343" stroke-width="2.3" fill="none"/>
<path d="M1093.1 900.97V916.77M1085.2 908.87H1101M1085.8 901.57L1100.4 916.17M1085.8 916.17L1100.4 901.57" stroke="#f34343" stroke-width="2.3" fill="none"/>
<path d="M1122.23 880.17V895.97M1114.33 888.07H1130.13M1114.93 880.77L1129.53 895.37M1114.93 895.37L1129.53 880.77" stroke="#f34343" stroke-width="2.3" fill="none"/>
<path d="M1151.35 865.95V881.75M1143.45 873.85H1159.25M1144.05 866.55L1158.65 881.15M1144.05 881.15L1158.65 866.55" stroke="#f34343" stroke-width="2.3" fill="none"/>
<path d="M1180.48 854.31V870.11M1172.58 862.21H1188.38M1173.18 854.91L1187.78 869.51M1173.18 869.51L1187.78 854.91" stroke="#f34343" stroke-width="2.3" fill="none"/>
<path d="M1209.6 842.41V858.21M1201.7 850.31H1217.5M1202.3 843.01L1216.9 857.61M1202.3 857.61L1216.9 843.01" stroke="#f34343" stroke-width="2.3" fill="none"/>
<path d="M1238.74 824.04V839.84M1230.84 831.94H1246.64M1231.44 824.64L1246.04 839.24M1231.44 839.24L1246.04 824.64" stroke="#f34343" stroke-width="2.3" fill="none"/>
<path d="M1267.89 789.86V805.66M1259.99 797.76H1275.79M1260.59 790.46L1275.19 805.06M1260.59 805.06L1275.19 790.46" stroke="#f34343" stroke-width="2.3" fill="none"/>
<path d="M1297.03 744.39V760.19M1289.13 752.29H1304.93M1289.73 744.99L1304.33 759.59M1289.73 759.59L1304.33 744.99" stroke="#f34343" stroke-width="2.3" fill="none"/>
<path d="M1326.17 684.7V700.5M1318.27 692.6H1334.08M1318.88 685.3L1333.47 699.9M1318.88 699.9L1333.47 685.3" stroke="#f34343" stroke-width="2.3" fill="none"/>
<path d="M1355.32 479.72V495.52M1347.42 487.62H1363.22M1348.02 480.32L1362.62 494.92M1348.02 494.92L1362.62 480.32" stroke="#f34343" stroke-width="2.3" fill="none"/>
<path d="M1384.46 414.89V430.69M1376.56 422.79H1392.36M1377.16 415.49L1391.76 430.09M1377.16 430.09L1391.76 415.49" stroke="#f34343" stroke-width="2.3" fill="none"/>
<path d="M1413.61 352.32V368.12M1405.71 360.22H1421.51M1406.31 352.92L1420.91 367.52M1406.31 367.52L1420.91 352.92" stroke="#f34343" stroke-width="2.3" fill="none"/>
<path d="M1442.75 267.6V283.4M1434.85 275.5H1450.65M1435.45 268.2L1450.05 282.8M1435.45 282.8L1450.05 268.2" stroke="#f34343" stroke-width="2.3" fill="none"/>
<path d="M1471.7 231.22V247.02M1463.8 239.12H1479.6M1464.4 231.82L1479 246.42M1464.4 246.42L1479 231.82" stroke="#f34343" stroke-width="2.3" fill="none"/>
<path d="M1500.6 219.77V235.57M1492.7 227.67H1508.5M1493.3 220.37L1507.9 234.97M1493.3 234.97L1507.9 220.37" stroke="#f34343" stroke-width="2.3" fill="none"/>
<path d="M1530 135.99V151.79M1522.1 143.89H1537.9M1522.7 136.59L1537.3 151.19M1522.7 151.19L1537.3 136.59" stroke="#f34343" stroke-width="2.3" fill="none"/>
<path d="M1559 135.99V151.79M1551.1 143.89H1566.9M1551.7 136.59L1566.3 151.19M1551.7 151.19L1566.3 136.59" stroke="#f34343" stroke-width="2.3" fill="none"/>
<path d="M1588.9 135.99V151.79M1581 143.89H1596.8M1581.6 136.59L1596.2 151.19M1581.6 151.19L1596.2 136.59" stroke="#f34343" stroke-width="2.3" fill="none"/>
<path d="M1610.16 55.92V71.72M1602.26 63.82H1618.06M1602.86 56.52L1617.46 71.12M1602.86 71.12L1617.46 56.52" stroke="#f34343" stroke-width="2.3" fill="none"/>
<path d="M1731 49.65V65.45M1723.1 57.55H1738.9M1723.7 50.25L1738.3 64.85M1723.7 64.85L1738.3 50.25" stroke="#f34343" stroke-width="2.3" fill="none"/>
<path d="M1827.83 49.65V65.45M1819.93 57.55H1835.73M1820.53 50.25L1835.13 64.85M1820.53 64.85L1835.13 50.25" stroke="#f34343" stroke-width="2.3" fill="none"/>
</g>
<g>
<path d="M257.5 1351L268.62 1351M286.62 1351L297.75 1351M315.75 1351L326.87 1351M344.87 1351L356 1351M374 1351L385.12 1351M403.12 1351L414.25 1351M432.25 1351L443.37 1351M461.37 1351L472.49 1351M490.46 1350.2L501.65 1349.21M519.43 1346.57L530.93 1344.17M548.36 1339.73L560.25 1336.14M577.65 1331.59L589.2 1329.02M606.82 1325.31L618.29 1323.01M635.94 1319.49L647.41 1317.19M665.11 1313.93L676.49 1312.01M694.12 1308.45L705.73 1305.72M722.98 1300.68L735.12 1296.42M752.13 1290.53L764.22 1286.39M780.71 1279.3L793.89 1272.4M808.77 1262.45L824.08 1249.67M836.79 1237.02L854.31 1216.25M865.59 1202.23L883.75 1178.61M894.26 1164.01L913.33 1135.73M922.69 1120.38L943.15 1083.13M952.01 1067.46L972.08 1032.96M981.65 1017.72L1000.69 989.56M1011.44 975.15L1029.14 953.62M1041.01 940.1L1057.82 922.19M1070.56 909.49L1086.52 894.6M1100.49 883.31L1114.84 873.3M1130.38 864.35L1143.19 858.38M1159.86 851.63L1171.97 847.43M1188.91 841.34L1201.17 836.77M1217.41 829.15L1230.93 821.41M1244.84 810.31L1261.8 791.87M1272.97 777.82L1291.95 750.12M1301.14 734.68L1322.07 693.91M1327.46 677L1354.03 493.3M1359.08 476.21L1380.7 429.19M1388.29 412.86L1409.78 367.07M1416.55 350.42L1439.8 283.35M1448.37 267.82L1466.08 245.66M1480.07 235.33L1492.23 230.55M1503.58 218.76L1527.02 152.06M1539 143.56L1550 143.56M1568 143.56L1579.9 143.56M1591.22 134.87L1607.84 72.46M1619.14 63.3L1722.01 58.01M1740 57.55L1818.83 57.55" stroke="#0f6be0" stroke-width="2.8" fill="none"/>
<path d="M241.5 1351H255.5" stroke="#0f6be0" stroke-width="2.2" fill="none"/>
<path d="M270.62 1351H284.62" stroke="#0f6be0" stroke-width="2.2" fill="none"/>
<path d="M299.75 1351H313.75" stroke="#0f6be0" stroke-width="2.2" fill="none"/>
<path d="M328.87 1351H342.87" stroke="#0f6be0" stroke-width="2.2" fill="none"/>
<path d="M358 1351H372" stroke="#0f6be0" stroke-width="2.2" fill="none"/>
<path d="M387.12 1351H401.12" stroke="#0f6be0" stroke-width="2.2" fill="none"/>
<path d="M416.25 1351H430.25" stroke="#0f6be0" stroke-width="2.2" fill="none"/>
<path d="M445.37 1351H459.37" stroke="#0f6be0" stroke-width="2.2" fill="none"/>
<path d="M474.49 1351H488.49" stroke="#0f6be0" stroke-width="2.2" fill="none"/>
<path d="M503.62 1348.41H517.62" stroke="#0f6be0" stroke-width="2.2" fill="none"/>
<path d="M532.74 1342.33H546.74" stroke="#0f6be0" stroke-width="2.2" fill="none"/>
<path d="M561.87 1333.54H575.87" stroke="#0f6be0" stroke-width="2.2" fill="none"/>
<path d="M590.99 1327.07H604.99" stroke="#0f6be0" stroke-width="2.2" fill="none"/>
<path d="M620.12 1321.25H634.12" stroke="#0f6be0" stroke-width="2.2" fill="none"/>
<path d="M649.24 1315.43H663.24" stroke="#0f6be0" stroke-width="2.2" fill="none"/>
<path d="M678.36 1310.52H692.36" stroke="#0f6be0" stroke-width="2.2" fill="none"/>
<path d="M707.49 1303.66H721.49" stroke="#0f6be0" stroke-width="2.2" fill="none"/>
<path d="M736.61 1293.44H750.61" stroke="#0f6be0" stroke-width="2.2" fill="none"/>
<path d="M765.74 1283.48H779.74" stroke="#0f6be0" stroke-width="2.2" fill="none"/>
<path d="M794.86 1268.22H808.86" stroke="#0f6be0" stroke-width="2.2" fill="none"/>
<path d="M823.98 1243.9H837.98" stroke="#0f6be0" stroke-width="2.2" fill="none"/>
<path d="M853.11 1209.37H867.11" stroke="#0f6be0" stroke-width="2.2" fill="none"/>
<path d="M882.23 1171.47H896.23" stroke="#0f6be0" stroke-width="2.2" fill="none"/>
<path d="M911.36 1128.27H925.36" stroke="#0f6be0" stroke-width="2.2" fill="none"/>
<path d="M940.48 1075.24H954.48" stroke="#0f6be0" stroke-width="2.2" fill="none"/>
<path d="M969.61 1025.18H983.61" stroke="#0f6be0" stroke-width="2.2" fill="none"/>
<path d="M998.73 982.11H1012.73" stroke="#0f6be0" stroke-width="2.2" fill="none"/>
<path d="M1027.85 946.67H1041.85" stroke="#0f6be0" stroke-width="2.2" fill="none"/>
<path d="M1056.98 915.62H1070.98" stroke="#0f6be0" stroke-width="2.2" fill="none"/>
<path d="M1086.1 888.46H1100.1" stroke="#0f6be0" stroke-width="2.2" fill="none"/>
<path d="M1115.23 868.16H1129.23" stroke="#0f6be0" stroke-width="2.2" fill="none"/>
<path d="M1144.35 854.57H1158.35" stroke="#0f6be0" stroke-width="2.2" fill="none"/>
<path d="M1173.48 844.48H1187.48" stroke="#0f6be0" stroke-width="2.2" fill="none"/>
<path d="M1202.6 833.62H1216.6" stroke="#0f6be0" stroke-width="2.2" fill="none"/>
<path d="M1231.74 816.93H1245.74" stroke="#0f6be0" stroke-width="2.2" fill="none"/>
<path d="M1260.89 785.24H1274.89" stroke="#0f6be0" stroke-width="2.2" fill="none"/>
<path d="M1290.03 742.69H1304.03" stroke="#0f6be0" stroke-width="2.2" fill="none"/>
<path d="M1319.17 685.91H1333.17" stroke="#0f6be0" stroke-width="2.2" fill="none"/>
<path d="M1348.32 484.39H1362.32" stroke="#0f6be0" stroke-width="2.2" fill="none"/>
<path d="M1377.46 421.01H1391.46" stroke="#0f6be0" stroke-width="2.2" fill="none"/>
<path d="M1406.61 358.92H1420.61" stroke="#0f6be0" stroke-width="2.2" fill="none"/>
<path d="M1435.75 274.85H1449.75" stroke="#0f6be0" stroke-width="2.2" fill="none"/>
<path d="M1464.7 238.63H1478.7" stroke="#0f6be0" stroke-width="2.2" fill="none"/>
<path d="M1493.6 227.25H1507.6" stroke="#0f6be0" stroke-width="2.2" fill="none"/>
<path d="M1523 143.56H1537" stroke="#0f6be0" stroke-width="2.2" fill="none"/>
<path d="M1552 143.56H1566" stroke="#0f6be0" stroke-width="2.2" fill="none"/>
<path d="M1581.9 143.56H1595.9" stroke="#0f6be0" stroke-width="2.2" fill="none"/>
<path d="M1603.16 63.76H1617.16" stroke="#0f6be0" stroke-width="2.2" fill="none"/>
<path d="M1724 57.55H1738" stroke="#0f6be0" stroke-width="2.2" fill="none"/>
<path d="M1820.83 57.55H1834.83" stroke="#0f6be0" stroke-width="2.2" fill="none"/>
</g>
<rect x="326.3" y="96.6" width="502.1" height="889.8" fill="#fff" stroke="#000" stroke-width="2.5"/>
<g font-size="44.2">
<path d="M332 127H434.8" stroke="#000000" stroke-width="1.7" fill="none"/>
<rect x="376.7" y="119.9" width="13.4" height="13.4" fill="#000000"/>
<text x="445.6" y="142.8">Optimum mix design</text>
<path d="M332 182.29H434.8" stroke="#777777" stroke-width="3" fill="none"/>
<rect x="376.7" y="175.19" width="13.4" height="13.4" fill="#777777"/>
<text x="445.6" y="198.09">C100</text>
<path d="M332 237.58H434.8" stroke="#f34343" stroke-width="2.8" fill="none"/>
<circle cx="383.4" cy="237.58" r="7.6" fill="#f34343"/>
<text x="445.6" y="253.38">C95SF5</text>
<path d="M332 292.87H434.8" stroke="#0f6be0" stroke-width="2.1" fill="none"/>
<polygon points="383.4,282.47 392.4,298.07 374.4,298.07" fill="#0f6be0"/>
<text x="445.6" y="308.67">C90SF10</text>
<path d="M332 348.16H434.8" stroke="#0aaa64" stroke-width="3" fill="none"/>
<polygon points="383.4,358.56 392.4,342.96 374.4,342.96" fill="#0aaa64"/>
<text x="445.6" y="363.96">C80SF20</text>
<path d="M332 403.45H434.8" stroke="#be78e0" stroke-width="3" fill="none"/>
<polygon points="383.4,393.95 392.9,403.45 383.4,412.95 373.9,403.45" fill="#be78e0"/>
<text x="445.6" y="419.25">C60SF40</text>
<path d="M332 458.74H434.8" stroke="#dc9a06" stroke-width="2.1" fill="none"/>
<polygon points="373,458.74 388.6,449.94 388.6,467.54" fill="#dc9a06"/>
<text x="445.6" y="474.54">C80SF10FA10</text>
<path d="M332 514.03H434.8" stroke="#00c8cc" stroke-width="2.1" fill="none"/>
<polygon points="393.8,514.03 378.2,505.23 378.2,522.83" fill="#00c8cc"/>
<text x="445.6" y="529.83">C70SF10FA20</text>
<path d="M332 569.32H434.8" stroke="#8a4c4e" stroke-width="3" fill="none"/>
<polygon points="383.4,560.92 390.67,565.12 390.67,573.52 383.4,577.72 376.13,573.52 376.13,565.12" fill="#8a4c4e"/>
<text x="445.6" y="585.12">C60SF10FA30</text>
<path d="M332 624.61H434.8" stroke="#8e8e00" stroke-width="3" fill="none"/>
<polygon points="383.4,616.41 385.57,622.22 391.77,622.49 386.92,626.35 388.57,632.33 383.4,628.91 378.23,632.33 379.88,626.35 375.03,622.49 381.23,622.22" fill="#8e8e00"/>
<text x="445.6" y="640.41">C70SF20FA10</text>
<path d="M332 679.9H434.8" stroke="#ff6400" stroke-width="2.1" fill="none"/>
<polygon points="383.4,672 391.48,677.87 388.4,687.38 378.4,687.38 375.32,677.87" fill="#ff6400"/>
<text x="445.6" y="695.7">C60FA40</text>
<path d="M332 735.19H434.8" stroke="#4196d0" stroke-width="2.1" fill="none"/>
<circle cx="383.4" cy="735.19" r="7.2" fill="#4196d0"/><circle cx="380.9" cy="732.79" r="3.7" fill="url(#hl)"/>
<text x="445.6" y="750.99">C80SF10LP10</text>
<path d="M332 790.48H434.8" stroke="#32b414" stroke-width="3" fill="none"/>
<path d="M376.4 790.48H390.4M383.4 783.48V797.48" stroke="#32b414" stroke-width="2.5" fill="none"/>
<text x="445.6" y="806.28">C70SF10LP20</text>
<path d="M332 845.77H434.8" stroke="#777777" stroke-width="2.6" fill="none"/>
<path d="M376 838.37L390.8 853.17M376 853.17L390.8 838.37" stroke="#777777" stroke-width="2.2" fill="none"/>
<text x="445.6" y="861.57">C60SF10LP30</text>
<path d="M332 901.06H434.8" stroke="#f34343" stroke-width="1.9" fill="none"/>
<path d="M383.4 893.16V908.96M375.5 901.06H391.3M376.1 893.76L390.7 908.36M376.1 908.36L390.7 893.76" stroke="#f34343" stroke-width="2.3" fill="none"/>
<text x="445.6" y="916.86">C70SF20LP10</text>
<path d="M332 956.35H434.8" stroke="#0f6be0" stroke-width="3" fill="none"/>
<path d="M376.4 956.35H390.4" stroke="#0f6be0" stroke-width="2.2" fill="none"/>
<text x="445.6" y="972.15">C60LP40</text>
</g>
</svg></body></html>
